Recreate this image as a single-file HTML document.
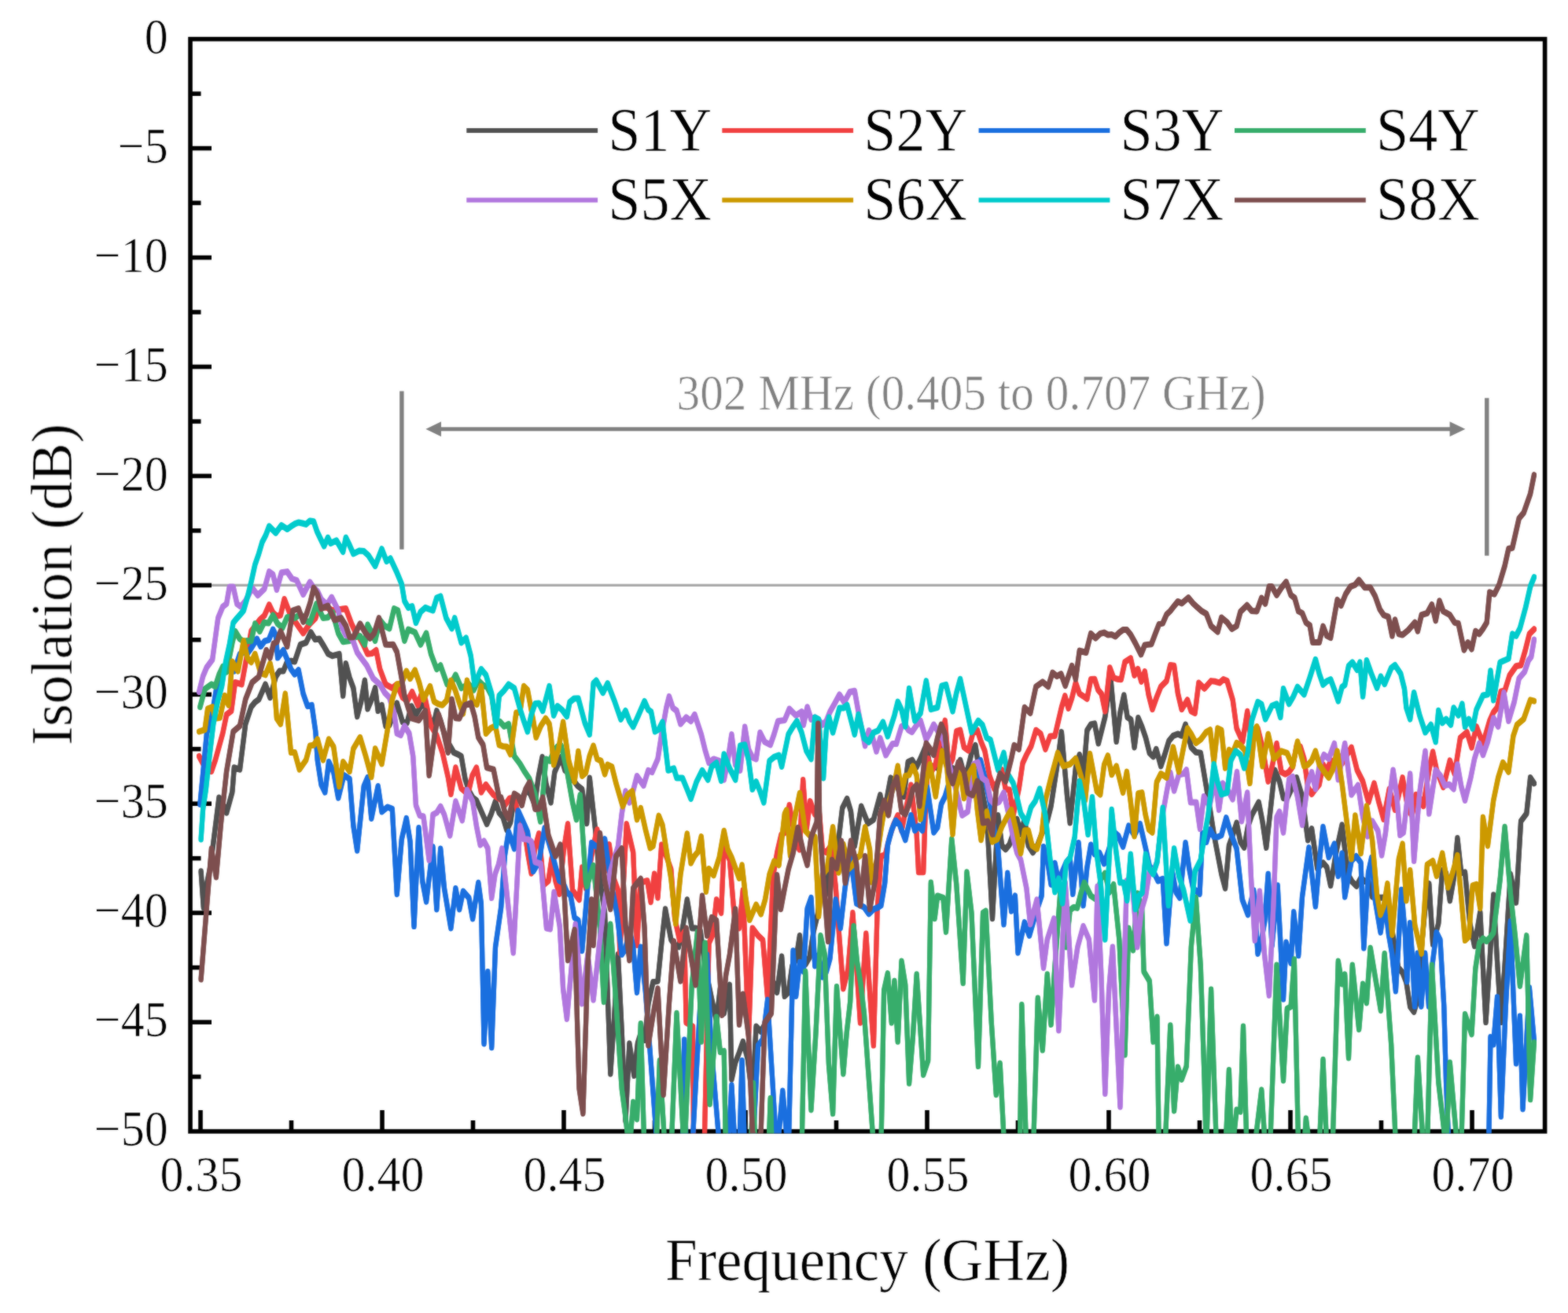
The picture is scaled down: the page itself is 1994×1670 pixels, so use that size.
<!DOCTYPE html>
<html lang="en"><head><meta charset="utf-8"><title>Isolation vs Frequency</title>
<style>html,body{margin:0;padding:0;background:#fff;}body{width:1994px;height:1670px;overflow:hidden;}svg{display:block;}text{font-family:'Liberation Serif', 'Times New Roman', Times, serif;}</style>
</head><body>
<svg width="1994" height="1670" viewBox="0 0 1994 1670" role="img" aria-label="Isolation versus frequency chart">
<rect width="1994" height="1670" fill="#ffffff"/>
<defs><filter id="soft" x="0" y="0" width="1994" height="1670" filterUnits="userSpaceOnUse" color-interpolation-filters="sRGB"><feGaussianBlur in="SourceGraphic" stdDeviation="1" result="b"/><feComposite in="SourceGraphic" in2="b" operator="arithmetic" k1="0" k2="0.5" k3="0.5" k4="0"/></filter></defs>
<g id="chart" filter="url(#soft)">
<defs><clipPath id="plot"><rect x="242.0" y="49.7" width="1722.6" height="1391.5"/></clipPath></defs>
<line x1="242.0" y1="744.4" x2="1964.6" y2="744.4" stroke="#a9a9a9" stroke-width="3.1"/>
<g stroke="#000" stroke-width="5.6" fill="none" stroke-linecap="butt">
<rect x="242.0" y="49.7" width="1722.6" height="1389.3"/>
<line x1="242.0" y1="119.2" x2="255.5" y2="119.2"/>
<line x1="242.0" y1="188.6" x2="269.0" y2="188.6"/>
<line x1="242.0" y1="258.1" x2="255.5" y2="258.1"/>
<line x1="242.0" y1="327.6" x2="269.0" y2="327.6"/>
<line x1="242.0" y1="397.0" x2="255.5" y2="397.0"/>
<line x1="242.0" y1="466.5" x2="269.0" y2="466.5"/>
<line x1="242.0" y1="536.0" x2="255.5" y2="536.0"/>
<line x1="242.0" y1="605.4" x2="269.0" y2="605.4"/>
<line x1="242.0" y1="674.9" x2="255.5" y2="674.9"/>
<line x1="242.0" y1="744.4" x2="269.0" y2="744.4"/>
<line x1="242.0" y1="813.8" x2="255.5" y2="813.8"/>
<line x1="242.0" y1="883.3" x2="269.0" y2="883.3"/>
<line x1="242.0" y1="952.7" x2="255.5" y2="952.7"/>
<line x1="242.0" y1="1022.2" x2="269.0" y2="1022.2"/>
<line x1="242.0" y1="1091.7" x2="255.5" y2="1091.7"/>
<line x1="242.0" y1="1161.1" x2="269.0" y2="1161.1"/>
<line x1="242.0" y1="1230.6" x2="255.5" y2="1230.6"/>
<line x1="242.0" y1="1300.1" x2="269.0" y2="1300.1"/>
<line x1="242.0" y1="1369.5" x2="255.5" y2="1369.5"/>
<line x1="255.0" y1="1439.0" x2="255.0" y2="1412.0"/>
<line x1="370.5" y1="1439.0" x2="370.5" y2="1425.0"/>
<line x1="486.0" y1="1439.0" x2="486.0" y2="1412.0"/>
<line x1="601.5" y1="1439.0" x2="601.5" y2="1425.0"/>
<line x1="717.0" y1="1439.0" x2="717.0" y2="1412.0"/>
<line x1="832.5" y1="1439.0" x2="832.5" y2="1425.0"/>
<line x1="948.0" y1="1439.0" x2="948.0" y2="1412.0"/>
<line x1="1063.5" y1="1439.0" x2="1063.5" y2="1425.0"/>
<line x1="1179.0" y1="1439.0" x2="1179.0" y2="1412.0"/>
<line x1="1294.5" y1="1439.0" x2="1294.5" y2="1425.0"/>
<line x1="1410.0" y1="1439.0" x2="1410.0" y2="1412.0"/>
<line x1="1525.5" y1="1439.0" x2="1525.5" y2="1425.0"/>
<line x1="1641.0" y1="1439.0" x2="1641.0" y2="1412.0"/>
<line x1="1756.5" y1="1439.0" x2="1756.5" y2="1425.0"/>
<line x1="1872.0" y1="1439.0" x2="1872.0" y2="1412.0"/>
</g>
<g clip-path="url(#plot)" fill="none" stroke-width="6.2" stroke-linejoin="round" stroke-linecap="round">
<path id="c-gray" stroke="#515151" transform="translate(0 -0.9)" d="M255.6 1108.3 L258.8 1154.1 L262.9 1124.4 L267.1 1104.2 L271.3 1072.2 L278.5 1014.4 L283.3 1022.4 L288.1 1033.7 L295.4 1007.2 L297.8 976.3 L305.0 978.7 L312.2 920.9 L319.4 899.2 L324.3 893.1 L329.1 889.6 L337.5 870.4 L343.5 887.2 L350.7 860.7 L355.5 853.5 L360.4 853.5 L365.2 841.5 L370.0 840.6 L374.8 841.5 L382.0 819.8 L389.2 817.4 L395.3 804.2 L400.7 813.2 L406.1 812.6 L411.7 821.6 L417.3 831.5 L422.9 834.2 L431.4 831.8 L436.2 884.8 L439.8 843.9 L444.6 862.3 L449.4 875.2 L454.2 911.3 L459.1 892.8 L463.9 865.5 L467.5 901.6 L472.3 890.4 L477.1 875.2 L480.7 904.1 L485.5 896.8 L490.4 923.3 L495.2 922.3 L500.0 909.2 L504.8 894.4 L512.0 918.5 L517.6 919.4 L523.2 898.2 L528.9 908.9 L536.1 896.8 L540.9 898.1 L545.7 911.8 L550.5 925.7 L555.3 904.1 L560.2 916.2 L565.0 932.9 L571.0 946.4 L577.0 957.0 L581.8 959.2 L586.6 961.8 L591.5 990.7 L596.3 1005.5 L601.1 1014.4 L605.9 1018.1 L610.7 1028.9 L619.1 1048.1 L624.6 1035.4 L630.0 1019.3 L634.8 1033.8 L639.6 1039.2 L644.4 1055.4 L649.2 1045.7 L654.0 1014.4 L658.9 1015.3 L663.7 1016.7 L668.5 1004.8 L674.2 1009.5 L680.0 1023.1 L684.8 987.7 L689.6 962.9 L694.4 996.6 L700.5 1020.7 L705.3 982.2 L713.7 962.9 L718.5 979.8 L723.7 983.4 L728.9 991.8 L734.2 999.1 L740.2 1003.9 L746.2 1047.2 L749.8 989.4 L757.0 1054.4 L763.0 1120.4 L769.1 1161.1 L776.3 1365.7 L781.1 1294.9 L785.9 1214.1 L790.7 1311.0 L795.5 1425.9 L800.4 1327.2 L806.4 1368.1 L810.9 1326.8 L815.4 1312.4 L819.9 1323.0 L824.4 1276.6 L830.5 1249.0 L836.5 1247.8 L841.3 1199.6 L846.1 1156.3 L853.3 1194.8 L858.1 1202.0 L862.9 1204.4 L868.4 1178.4 L873.8 1144.3 L879.8 1180.4 L884.6 1180.4 L890.6 1183.6 L896.6 1228.5 L901.5 1253.3 L906.3 1276.6 L911.1 1298.9 L915.9 1256.5 L920.7 1288.7 L927.9 1252.6 L930.4 1372.9 L935.2 1351.3 L940.0 1339.0 L944.8 1324.8 L950.8 1346.7 L956.8 1397.0 L961.6 1305.5 L967.7 1312.0 L973.7 1300.7 L978.5 1286.8 L983.3 1249.0 L988.1 1262.2 L994.1 1216.5 L997.8 1267.0 L1002.6 1262.2 L1007.4 1228.5 L1012.2 1220.8 L1017.0 1190.0 L1019.4 1228.5 L1024.5 1226.4 L1029.6 1217.4 L1034.7 1184.1 L1039.7 1163.7 L1044.8 1125.2 L1049.9 1138.0 L1055.0 1102.4 L1060.1 1088.2 L1065.2 1078.5 L1071.2 1027.7 L1077.2 1015.9 L1082.0 1032.0 L1086.8 1076.1 L1095.2 1025.5 L1103.7 1047.2 L1110.9 1042.4 L1119.3 1011.1 L1124.1 1035.2 L1132.6 989.4 L1138.3 993.2 L1144.1 1008.1 L1149.4 1013.1 L1154.7 969.3 L1160.0 966.7 L1165.3 976.0 L1170.6 964.8 L1177.8 947.9 L1182.6 975.5 L1187.4 974.4 L1192.2 976.8 L1197.0 954.8 L1201.8 949.2 L1206.7 988.7 L1211.5 977.0 L1216.3 988.9 L1221.1 966.8 L1225.9 984.6 L1230.7 978.0 L1235.5 958.1 L1240.4 947.9 L1245.2 980.2 L1250.0 1011.9 L1254.8 1037.0 L1262.0 1168.3 L1269.2 1037.0 L1274.1 1075.6 L1278.9 1080.3 L1283.7 1074.1 L1288.5 1060.2 L1293.3 1041.8 L1298.1 1061.0 L1302.9 1041.6 L1307.8 1075.5 L1313.4 1084.3 L1319.0 1076.0 L1324.6 1061.1 L1330.6 1048.6 L1336.6 1025.0 L1343.9 976.8 L1349.9 931.1 L1357.1 1012.9 L1360.7 1046.6 L1367.9 976.8 L1372.8 960.0 L1377.6 988.9 L1382.4 929.0 L1387.2 921.5 L1392.0 920.3 L1396.8 945.5 L1405.3 911.8 L1412.5 863.7 L1419.7 943.1 L1424.5 906.2 L1429.3 884.2 L1433.7 912.3 L1438.2 915.2 L1442.6 950.4 L1447.4 913.0 L1452.2 924.4 L1457.0 938.3 L1461.8 957.7 L1466.6 962.4 L1470.3 952.8 L1476.3 974.4 L1481.1 960.0 L1486.5 942.3 L1491.9 935.9 L1497.9 933.5 L1502.7 935.7 L1507.6 921.5 L1514.8 950.4 L1520.8 956.8 L1526.8 957.6 L1534.0 1000.9 L1538.9 1030.2 L1543.7 1061.1 L1548.5 1086.3 L1553.3 1111.6 L1558.1 1129.8 L1562.9 1075.5 L1567.7 1062.0 L1572.6 1046.6 L1577.4 1070.6 L1582.2 1077.9 L1587.0 1051.1 L1591.8 1037.0 L1600.7 1020.4 L1605.5 1045.1 L1610.3 1078.1 L1615.1 1034.8 L1621.1 979.4 L1627.1 993.9 L1632.0 1015.2 L1636.8 1015.5 L1642.8 1002.6 L1648.8 989.1 L1656.0 1013.1 L1663.2 1068.5 L1668.1 1054.1 L1675.3 1104.6 L1682.5 1097.4 L1687.3 1102.9 L1692.1 1126.3 L1699.4 1082.9 L1706.6 1049.2 L1713.8 1111.8 L1719.4 1121.2 L1725.0 1127.0 L1730.6 1116.6 L1735.5 1121.0 L1740.3 1121.4 L1745.1 1140.7 L1749.9 1140.7 L1754.7 1141.8 L1759.5 1141.6 L1764.4 1145.5 L1772.8 1198.5 L1778.2 1230.6 L1783.6 1237.0 L1788.4 1249.3 L1793.2 1280.3 L1798.1 1287.1 L1802.9 1270.7 L1806.5 1220.2 L1811.9 1159.2 L1817.3 1123.9 L1822.1 1200.9 L1829.3 1174.4 L1834.2 1107.0 L1839.0 1110.5 L1843.8 1145.5 L1848.6 1118.4 L1853.4 1066.1 L1858.2 1110.3 L1863.0 1109.4 L1869.1 1173.5 L1875.1 1203.3 L1882.3 1160.0 L1889.5 1300.1 L1894.3 1226.1 L1899.2 1138.3 L1904.0 1222.0 L1908.8 1300.1 L1914.8 1209.0 L1920.8 1111.8 L1928.0 1147.9 L1934.1 1044.4 L1941.3 1034.8 L1946.1 989.1 L1950.9 996.3"/>
<path stroke="#515151" transform="translate(0 0.9)" d="M255.6 1108.3 L258.8 1154.1 L262.9 1124.4 L267.1 1104.2 L271.3 1072.2 L278.5 1014.4 L283.3 1022.4 L288.1 1033.7 L295.4 1007.2 L297.8 976.3 L305.0 978.7 L312.2 920.9 L319.4 899.2 L324.3 893.1 L329.1 889.6 L337.5 870.4 L343.5 887.2 L350.7 860.7 L355.5 853.5 L360.4 853.5 L365.2 841.5 L370.0 840.6 L374.8 841.5 L382.0 819.8 L389.2 817.4 L395.3 804.2 L400.7 813.2 L406.1 812.6 L411.7 821.6 L417.3 831.5 L422.9 834.2 L431.4 831.8 L436.2 884.8 L439.8 843.9 L444.6 862.3 L449.4 875.2 L454.2 911.3 L459.1 892.8 L463.9 865.5 L467.5 901.6 L472.3 890.4 L477.1 875.2 L480.7 904.1 L485.5 896.8 L490.4 923.3 L495.2 922.3 L500.0 909.2 L504.8 894.4 L512.0 918.5 L517.6 919.4 L523.2 898.2 L528.9 908.9 L536.1 896.8 L540.9 898.1 L545.7 911.8 L550.5 925.7 L555.3 904.1 L560.2 916.2 L565.0 932.9 L571.0 946.4 L577.0 957.0 L581.8 959.2 L586.6 961.8 L591.5 990.7 L596.3 1005.5 L601.1 1014.4 L605.9 1018.1 L610.7 1028.9 L619.1 1048.1 L624.6 1035.4 L630.0 1019.3 L634.8 1033.8 L639.6 1039.2 L644.4 1055.4 L649.2 1045.7 L654.0 1014.4 L658.9 1015.3 L663.7 1016.7 L668.5 1004.8 L674.2 1009.5 L680.0 1023.1 L684.8 987.7 L689.6 962.9 L694.4 996.6 L700.5 1020.7 L705.3 982.2 L713.7 962.9 L718.5 979.8 L723.7 983.4 L728.9 991.8 L734.2 999.1 L740.2 1003.9 L746.2 1047.2 L749.8 989.4 L757.0 1054.4 L763.0 1120.4 L769.1 1161.1 L776.3 1365.7 L781.1 1294.9 L785.9 1214.1 L790.7 1311.0 L795.5 1425.9 L800.4 1327.2 L806.4 1368.1 L810.9 1326.8 L815.4 1312.4 L819.9 1323.0 L824.4 1276.6 L830.5 1249.0 L836.5 1247.8 L841.3 1199.6 L846.1 1156.3 L853.3 1194.8 L858.1 1202.0 L862.9 1204.4 L868.4 1178.4 L873.8 1144.3 L879.8 1180.4 L884.6 1180.4 L890.6 1183.6 L896.6 1228.5 L901.5 1253.3 L906.3 1276.6 L911.1 1298.9 L915.9 1256.5 L920.7 1288.7 L927.9 1252.6 L930.4 1372.9 L935.2 1351.3 L940.0 1339.0 L944.8 1324.8 L950.8 1346.7 L956.8 1397.0 L961.6 1305.5 L967.7 1312.0 L973.7 1300.7 L978.5 1286.8 L983.3 1249.0 L988.1 1262.2 L994.1 1216.5 L997.8 1267.0 L1002.6 1262.2 L1007.4 1228.5 L1012.2 1220.8 L1017.0 1190.0 L1019.4 1228.5 L1024.5 1226.4 L1029.6 1217.4 L1034.7 1184.1 L1039.7 1163.7 L1044.8 1125.2 L1049.9 1138.0 L1055.0 1102.4 L1060.1 1088.2 L1065.2 1078.5 L1071.2 1027.7 L1077.2 1015.9 L1082.0 1032.0 L1086.8 1076.1 L1095.2 1025.5 L1103.7 1047.2 L1110.9 1042.4 L1119.3 1011.1 L1124.1 1035.2 L1132.6 989.4 L1138.3 993.2 L1144.1 1008.1 L1149.4 1013.1 L1154.7 969.3 L1160.0 966.7 L1165.3 976.0 L1170.6 964.8 L1177.8 947.9 L1182.6 975.5 L1187.4 974.4 L1192.2 976.8 L1197.0 954.8 L1201.8 949.2 L1206.7 988.7 L1211.5 977.0 L1216.3 988.9 L1221.1 966.8 L1225.9 984.6 L1230.7 978.0 L1235.5 958.1 L1240.4 947.9 L1245.2 980.2 L1250.0 1011.9 L1254.8 1037.0 L1262.0 1168.3 L1269.2 1037.0 L1274.1 1075.6 L1278.9 1080.3 L1283.7 1074.1 L1288.5 1060.2 L1293.3 1041.8 L1298.1 1061.0 L1302.9 1041.6 L1307.8 1075.5 L1313.4 1084.3 L1319.0 1076.0 L1324.6 1061.1 L1330.6 1048.6 L1336.6 1025.0 L1343.9 976.8 L1349.9 931.1 L1357.1 1012.9 L1360.7 1046.6 L1367.9 976.8 L1372.8 960.0 L1377.6 988.9 L1382.4 929.0 L1387.2 921.5 L1392.0 920.3 L1396.8 945.5 L1405.3 911.8 L1412.5 863.7 L1419.7 943.1 L1424.5 906.2 L1429.3 884.2 L1433.7 912.3 L1438.2 915.2 L1442.6 950.4 L1447.4 913.0 L1452.2 924.4 L1457.0 938.3 L1461.8 957.7 L1466.6 962.4 L1470.3 952.8 L1476.3 974.4 L1481.1 960.0 L1486.5 942.3 L1491.9 935.9 L1497.9 933.5 L1502.7 935.7 L1507.6 921.5 L1514.8 950.4 L1520.8 956.8 L1526.8 957.6 L1534.0 1000.9 L1538.9 1030.2 L1543.7 1061.1 L1548.5 1086.3 L1553.3 1111.6 L1558.1 1129.8 L1562.9 1075.5 L1567.7 1062.0 L1572.6 1046.6 L1577.4 1070.6 L1582.2 1077.9 L1587.0 1051.1 L1591.8 1037.0 L1600.7 1020.4 L1605.5 1045.1 L1610.3 1078.1 L1615.1 1034.8 L1621.1 979.4 L1627.1 993.9 L1632.0 1015.2 L1636.8 1015.5 L1642.8 1002.6 L1648.8 989.1 L1656.0 1013.1 L1663.2 1068.5 L1668.1 1054.1 L1675.3 1104.6 L1682.5 1097.4 L1687.3 1102.9 L1692.1 1126.3 L1699.4 1082.9 L1706.6 1049.2 L1713.8 1111.8 L1719.4 1121.2 L1725.0 1127.0 L1730.6 1116.6 L1735.5 1121.0 L1740.3 1121.4 L1745.1 1140.7 L1749.9 1140.7 L1754.7 1141.8 L1759.5 1141.6 L1764.4 1145.5 L1772.8 1198.5 L1778.2 1230.6 L1783.6 1237.0 L1788.4 1249.3 L1793.2 1280.3 L1798.1 1287.1 L1802.9 1270.7 L1806.5 1220.2 L1811.9 1159.2 L1817.3 1123.9 L1822.1 1200.9 L1829.3 1174.4 L1834.2 1107.0 L1839.0 1110.5 L1843.8 1145.5 L1848.6 1118.4 L1853.4 1066.1 L1858.2 1110.3 L1863.0 1109.4 L1869.1 1173.5 L1875.1 1203.3 L1882.3 1160.0 L1889.5 1300.1 L1894.3 1226.1 L1899.2 1138.3 L1904.0 1222.0 L1908.8 1300.1 L1914.8 1209.0 L1920.8 1111.8 L1928.0 1147.9 L1934.1 1044.4 L1941.3 1034.8 L1946.1 989.1 L1950.9 996.3"/>
<path id="c-red" stroke="#F14040" transform="translate(0 -0.9)" d="M253.2 961.8 L258.5 971.8 L263.7 973.6 L268.9 981.1 L273.7 967.2 L278.5 949.8 L283.3 932.6 L288.1 908.9 L294.2 904.1 L299.0 867.9 L307.4 870.4 L312.2 843.9 L319.4 802.9 L324.9 795.7 L330.3 788.5 L336.3 782.9 L342.3 769.2 L347.1 779.2 L351.9 783.7 L356.8 782.5 L361.6 762.0 L370.0 783.7 L377.2 793.3 L385.6 805.4 L394.1 793.3 L401.3 786.1 L406.1 769.2 L411.7 772.3 L417.3 773.2 L422.9 776.5 L428.6 774.9 L434.2 774.8 L439.8 774.1 L447.0 793.3 L451.8 803.5 L456.6 810.2 L462.1 820.0 L467.5 831.8 L472.9 831.1 L478.3 827.0 L483.1 851.1 L490.4 870.4 L498.8 875.2 L504.8 870.4 L512.0 887.2 L518.0 891.6 L524.1 880.0 L531.3 896.8 L536.1 882.1 L540.9 889.6 L548.1 923.3 L555.3 935.3 L562.6 957.0 L569.8 988.3 L573.4 1010.0 L579.4 976.3 L586.6 1002.7 L595.1 1010.0 L600.5 986.6 L605.9 976.3 L611.9 1007.6 L617.9 997.9 L622.7 1004.7 L627.6 1010.8 L632.4 1014.3 L637.2 1017.2 L642.0 1024.1 L648.0 1015.5 L654.0 1014.4 L660.1 1039.8 L666.1 1048.1 L670.9 1083.5 L675.7 1110.7 L680.5 1077.9 L685.3 1060.2 L691.4 1125.4 L697.4 1120.4 L701.7 1091.3 L706.5 1120.5 L711.3 1137.0 L716.7 1082.6 L722.1 1048.0 L728.1 1132.2 L736.6 1144.3 L740.2 1103.3 L745.0 1129.8 L749.8 1102.9 L754.6 1075.5 L759.4 1055.2 L764.3 1080.6 L769.1 1108.1 L774.7 1074.1 L780.3 1116.7 L785.9 1132.2 L788.3 1211.7 L796.8 1048.0 L805.2 1084.1 L810.0 1202.0 L814.8 1122.6 L823.2 1120.2 L827.6 1147.3 L832.1 1111.6 L836.5 1141.8 L841.3 1074.4 L847.3 1088.8 L853.3 1105.7 L858.1 1168.3 L864.2 1195.6 L870.2 1185.2 L872.6 1300.7 L881.0 1305.5 L882.2 1469.2 L895.4 1469.2 L901.5 1199.6 L906.3 1189.1 L911.1 1144.3 L917.1 1161.1 L920.7 1076.9 L927.9 1093.7 L934.0 1166.9 L940.0 1180.4 L944.8 1132.2 L952.0 1320.0 L956.8 1180.4 L964.1 1190.0 L970.1 1195.7 L976.1 1269.4 L983.3 1113.0 L988.4 1083.6 L993.5 1061.6 L998.7 1058.6 L1003.8 1023.9 L1012.2 1072.0 L1016.7 1080.6 L1021.2 991.9 L1025.7 1054.1 L1030.3 1019.1 L1036.3 1035.9 L1041.1 1023.0 L1045.9 1081.7 L1050.7 1084.1 L1056.7 1075.9 L1062.7 1127.4 L1067.6 1195.9 L1072.4 1257.4 L1078.4 1233.1 L1084.4 1161.1 L1089.2 1228.3 L1094.0 1300.7 L1101.3 1187.6 L1106.1 1262.3 L1110.9 1329.6 L1115.7 1156.3 L1120.5 1088.9 L1125.8 1087.4 L1131.1 1065.0 L1136.4 1048.7 L1141.7 1037.0 L1146.5 1056.7 L1151.3 1032.2 L1158.5 998.5 L1165.7 1061.1 L1168.1 1109.2 L1174.2 1109.2 L1176.6 1037.0 L1180.2 964.8 L1185.0 980.5 L1189.8 972.0 L1195.8 940.9 L1201.8 916.6 L1206.7 975.1 L1211.5 964.8 L1216.3 930.2 L1221.1 928.7 L1225.9 950.4 L1231.5 954.6 L1237.2 932.6 L1242.8 928.7 L1247.6 943.5 L1252.4 955.2 L1258.4 987.0 L1264.4 1003.3 L1269.2 993.4 L1274.1 979.2 L1278.9 1004.0 L1283.7 1004.5 L1288.5 1037.0 L1295.7 1003.3 L1300.5 970.7 L1305.4 960.0 L1311.4 948.8 L1317.4 928.7 L1323.4 933.3 L1329.4 952.8 L1335.4 936.4 L1341.5 935.9 L1349.9 899.8 L1354.3 885.2 L1358.7 900.9 L1363.1 887.8 L1367.9 868.5 L1372.8 882.3 L1377.6 885.4 L1382.4 888.8 L1387.2 864.1 L1392.0 863.7 L1396.4 877.3 L1400.8 882.7 L1405.3 904.6 L1411.3 849.2 L1416.1 862.0 L1420.9 863.7 L1425.7 864.3 L1430.5 842.0 L1437.8 837.2 L1442.6 858.9 L1447.0 850.8 L1451.4 866.9 L1455.8 854.1 L1460.6 883.4 L1465.4 902.2 L1470.9 886.8 L1476.3 873.3 L1483.5 866.1 L1488.3 846.0 L1493.1 846.8 L1497.9 882.0 L1502.7 902.2 L1510.0 890.2 L1514.8 904.6 L1519.6 907.0 L1524.4 868.5 L1531.6 875.7 L1540.1 866.1 L1545.5 866.8 L1550.9 868.5 L1555.7 864.1 L1560.5 866.1 L1567.7 890.2 L1572.6 926.3 L1580.2 943.3 L1586.2 904.8 L1591.0 940.9 L1599.5 926.5 L1605.5 950.6 L1612.7 993.9 L1618.1 972.9 L1623.5 945.7 L1629.5 981.8 L1634.4 984.6 L1639.2 981.8 L1644.0 975.1 L1648.8 948.1 L1653.6 949.7 L1658.4 965.0 L1663.2 1001.1 L1668.1 1010.0 L1672.9 1003.5 L1677.7 997.9 L1682.5 972.2 L1687.3 980.4 L1692.1 967.8 L1696.9 967.4 L1701.8 960.8 L1706.6 971.1 L1711.4 962.6 L1718.6 950.6 L1725.8 979.4 L1733.1 993.9 L1740.3 1020.4 L1747.5 996.3 L1753.5 1020.5 L1759.5 1042.0 L1766.8 1003.5 L1774.0 1030.0 L1778.8 1011.0 L1783.6 989.1 L1790.8 1030.0 L1795.6 1037.5 L1800.5 1010.7 L1805.3 1014.8 L1810.1 1025.2 L1817.3 979.4 L1822.1 956.2 L1826.9 979.4 L1835.4 1001.1 L1843.8 967.4 L1849.8 984.3 L1857.0 938.5 L1865.5 931.3 L1871.5 950.6 L1877.5 924.1 L1885.9 945.7 L1894.3 916.9 L1899.2 905.8 L1904.0 900.0 L1908.8 879.4 L1913.6 878.5 L1919.6 859.2 L1928.0 847.2 L1934.1 846.0 L1939.5 827.9 L1944.9 806.3 L1950.9 800.3"/>
<path stroke="#F14040" transform="translate(0 0.9)" d="M253.2 961.8 L258.5 971.8 L263.7 973.6 L268.9 981.1 L273.7 967.2 L278.5 949.8 L283.3 932.6 L288.1 908.9 L294.2 904.1 L299.0 867.9 L307.4 870.4 L312.2 843.9 L319.4 802.9 L324.9 795.7 L330.3 788.5 L336.3 782.9 L342.3 769.2 L347.1 779.2 L351.9 783.7 L356.8 782.5 L361.6 762.0 L370.0 783.7 L377.2 793.3 L385.6 805.4 L394.1 793.3 L401.3 786.1 L406.1 769.2 L411.7 772.3 L417.3 773.2 L422.9 776.5 L428.6 774.9 L434.2 774.8 L439.8 774.1 L447.0 793.3 L451.8 803.5 L456.6 810.2 L462.1 820.0 L467.5 831.8 L472.9 831.1 L478.3 827.0 L483.1 851.1 L490.4 870.4 L498.8 875.2 L504.8 870.4 L512.0 887.2 L518.0 891.6 L524.1 880.0 L531.3 896.8 L536.1 882.1 L540.9 889.6 L548.1 923.3 L555.3 935.3 L562.6 957.0 L569.8 988.3 L573.4 1010.0 L579.4 976.3 L586.6 1002.7 L595.1 1010.0 L600.5 986.6 L605.9 976.3 L611.9 1007.6 L617.9 997.9 L622.7 1004.7 L627.6 1010.8 L632.4 1014.3 L637.2 1017.2 L642.0 1024.1 L648.0 1015.5 L654.0 1014.4 L660.1 1039.8 L666.1 1048.1 L670.9 1083.5 L675.7 1110.7 L680.5 1077.9 L685.3 1060.2 L691.4 1125.4 L697.4 1120.4 L701.7 1091.3 L706.5 1120.5 L711.3 1137.0 L716.7 1082.6 L722.1 1048.0 L728.1 1132.2 L736.6 1144.3 L740.2 1103.3 L745.0 1129.8 L749.8 1102.9 L754.6 1075.5 L759.4 1055.2 L764.3 1080.6 L769.1 1108.1 L774.7 1074.1 L780.3 1116.7 L785.9 1132.2 L788.3 1211.7 L796.8 1048.0 L805.2 1084.1 L810.0 1202.0 L814.8 1122.6 L823.2 1120.2 L827.6 1147.3 L832.1 1111.6 L836.5 1141.8 L841.3 1074.4 L847.3 1088.8 L853.3 1105.7 L858.1 1168.3 L864.2 1195.6 L870.2 1185.2 L872.6 1300.7 L881.0 1305.5 L882.2 1469.2 L895.4 1469.2 L901.5 1199.6 L906.3 1189.1 L911.1 1144.3 L917.1 1161.1 L920.7 1076.9 L927.9 1093.7 L934.0 1166.9 L940.0 1180.4 L944.8 1132.2 L952.0 1320.0 L956.8 1180.4 L964.1 1190.0 L970.1 1195.7 L976.1 1269.4 L983.3 1113.0 L988.4 1083.6 L993.5 1061.6 L998.7 1058.6 L1003.8 1023.9 L1012.2 1072.0 L1016.7 1080.6 L1021.2 991.9 L1025.7 1054.1 L1030.3 1019.1 L1036.3 1035.9 L1041.1 1023.0 L1045.9 1081.7 L1050.7 1084.1 L1056.7 1075.9 L1062.7 1127.4 L1067.6 1195.9 L1072.4 1257.4 L1078.4 1233.1 L1084.4 1161.1 L1089.2 1228.3 L1094.0 1300.7 L1101.3 1187.6 L1106.1 1262.3 L1110.9 1329.6 L1115.7 1156.3 L1120.5 1088.9 L1125.8 1087.4 L1131.1 1065.0 L1136.4 1048.7 L1141.7 1037.0 L1146.5 1056.7 L1151.3 1032.2 L1158.5 998.5 L1165.7 1061.1 L1168.1 1109.2 L1174.2 1109.2 L1176.6 1037.0 L1180.2 964.8 L1185.0 980.5 L1189.8 972.0 L1195.8 940.9 L1201.8 916.6 L1206.7 975.1 L1211.5 964.8 L1216.3 930.2 L1221.1 928.7 L1225.9 950.4 L1231.5 954.6 L1237.2 932.6 L1242.8 928.7 L1247.6 943.5 L1252.4 955.2 L1258.4 987.0 L1264.4 1003.3 L1269.2 993.4 L1274.1 979.2 L1278.9 1004.0 L1283.7 1004.5 L1288.5 1037.0 L1295.7 1003.3 L1300.5 970.7 L1305.4 960.0 L1311.4 948.8 L1317.4 928.7 L1323.4 933.3 L1329.4 952.8 L1335.4 936.4 L1341.5 935.9 L1349.9 899.8 L1354.3 885.2 L1358.7 900.9 L1363.1 887.8 L1367.9 868.5 L1372.8 882.3 L1377.6 885.4 L1382.4 888.8 L1387.2 864.1 L1392.0 863.7 L1396.4 877.3 L1400.8 882.7 L1405.3 904.6 L1411.3 849.2 L1416.1 862.0 L1420.9 863.7 L1425.7 864.3 L1430.5 842.0 L1437.8 837.2 L1442.6 858.9 L1447.0 850.8 L1451.4 866.9 L1455.8 854.1 L1460.6 883.4 L1465.4 902.2 L1470.9 886.8 L1476.3 873.3 L1483.5 866.1 L1488.3 846.0 L1493.1 846.8 L1497.9 882.0 L1502.7 902.2 L1510.0 890.2 L1514.8 904.6 L1519.6 907.0 L1524.4 868.5 L1531.6 875.7 L1540.1 866.1 L1545.5 866.8 L1550.9 868.5 L1555.7 864.1 L1560.5 866.1 L1567.7 890.2 L1572.6 926.3 L1580.2 943.3 L1586.2 904.8 L1591.0 940.9 L1599.5 926.5 L1605.5 950.6 L1612.7 993.9 L1618.1 972.9 L1623.5 945.7 L1629.5 981.8 L1634.4 984.6 L1639.2 981.8 L1644.0 975.1 L1648.8 948.1 L1653.6 949.7 L1658.4 965.0 L1663.2 1001.1 L1668.1 1010.0 L1672.9 1003.5 L1677.7 997.9 L1682.5 972.2 L1687.3 980.4 L1692.1 967.8 L1696.9 967.4 L1701.8 960.8 L1706.6 971.1 L1711.4 962.6 L1718.6 950.6 L1725.8 979.4 L1733.1 993.9 L1740.3 1020.4 L1747.5 996.3 L1753.5 1020.5 L1759.5 1042.0 L1766.8 1003.5 L1774.0 1030.0 L1778.8 1011.0 L1783.6 989.1 L1790.8 1030.0 L1795.6 1037.5 L1800.5 1010.7 L1805.3 1014.8 L1810.1 1025.2 L1817.3 979.4 L1822.1 956.2 L1826.9 979.4 L1835.4 1001.1 L1843.8 967.4 L1849.8 984.3 L1857.0 938.5 L1865.5 931.3 L1871.5 950.6 L1877.5 924.1 L1885.9 945.7 L1894.3 916.9 L1899.2 905.8 L1904.0 900.0 L1908.8 879.4 L1913.6 878.5 L1919.6 859.2 L1928.0 847.2 L1934.1 846.0 L1939.5 827.9 L1944.9 806.3 L1950.9 800.3"/>
<path id="c-blue" stroke="#1A6FDF" transform="translate(0 -0.9)" d="M254.4 1022.9 L262.9 932.9 L268.9 913.7 L276.1 870.4 L283.3 851.1 L288.1 853.4 L293.0 849.8 L297.8 853.5 L305.0 831.8 L309.8 829.4 L314.6 831.0 L319.4 824.6 L326.7 812.6 L331.5 822.2 L336.7 815.3 L341.9 813.8 L347.1 800.5 L350.7 807.8 L353.1 836.6 L360.4 827.0 L365.2 838.8 L370.0 851.1 L374.8 857.7 L379.6 852.3 L385.6 882.4 L391.1 898.2 L396.5 896.8 L401.3 930.5 L403.7 966.6 L408.5 998.0 L413.3 1007.6 L418.1 969.0 L424.2 981.9 L430.2 1014.8 L437.4 985.9 L444.6 990.7 L449.4 1050.3 L454.2 1081.8 L462.7 1000.0 L467.5 988.8 L472.3 1040.9 L480.7 1000.0 L485.5 1032.5 L492.8 1026.5 L498.8 1028.9 L504.8 1137.2 L510.8 1067.4 L516.8 1040.9 L521.6 1070.3 L526.5 1178.1 L532.5 1053.0 L537.3 1121.3 L542.1 1146.8 L550.5 1077.0 L555.3 1156.5 L560.2 1079.4 L565.0 1130.0 L573.4 1180.5 L579.4 1130.0 L584.2 1156.5 L589.0 1133.6 L596.3 1142.0 L601.1 1168.5 L608.3 1122.8 L611.9 1149.2 L615.5 1327.4 L620.3 1235.9 L625.2 1332.2 L630.0 1204.6 L637.2 1154.1 L642.0 1087.5 L646.8 1057.8 L654.0 1079.4 L658.9 1031.3 L664.9 1044.4 L670.9 1057.8 L678.1 1108.3 L685.3 1096.3 L692.6 1053.0 L697.4 1069.8 L702.0 1085.3 L706.7 1103.2 L711.3 1120.2 L716.1 1122.9 L720.9 1134.5 L725.7 1139.4 L730.6 1167.1 L735.4 1170.7 L740.2 1209.2 L746.2 1141.1 L752.2 1072.0 L757.8 1076.3 L763.5 1079.9 L769.1 1067.2 L776.3 1117.8 L784.7 1163.5 L790.7 1214.1 L795.5 1206.9 L800.4 1182.4 L805.2 1204.4 L810.0 1262.2 L814.8 1204.4 L820.8 1260.7 L826.8 1339.2 L836.5 1469.2 L867.8 1469.2 L870.2 1322.4 L872.6 1469.2 L879.8 1469.2 L891.8 1252.6 L899.1 1214.1 L903.9 1324.8 L915.9 1469.2 L925.5 1469.2 L930.4 1380.2 L935.2 1469.2 L940.0 1469.2 L943.6 1348.9 L947.2 1469.2 L956.8 1469.2 L964.1 1329.6 L970.1 1322.2 L976.1 1271.8 L988.1 1469.2 L995.3 1387.4 L1002.6 1469.2 L1008.6 1209.2 L1012.2 1267.0 L1017.0 1223.7 L1021.8 1235.7 L1026.6 1155.9 L1031.5 1141.8 L1036.3 1228.5 L1041.1 1214.9 L1045.9 1242.6 L1050.7 1236.2 L1055.5 1218.9 L1062.7 1144.3 L1068.8 1180.4 L1074.8 1127.4 L1082.0 1091.3 L1089.2 1149.1 L1094.0 1151.5 L1098.9 1153.9 L1104.9 1162.3 L1110.9 1156.3 L1115.7 1154.7 L1120.5 1151.5 L1125.3 1122.6 L1128.9 1074.4 L1134.0 1055.4 L1139.0 1043.5 L1144.1 1049.0 L1151.3 1068.3 L1158.5 1037.0 L1163.3 1056.3 L1168.1 1050.6 L1173.0 1056.3 L1179.0 1000.9 L1187.4 1058.7 L1192.2 1052.3 L1197.0 1022.7 L1201.8 1012.9 L1206.7 996.2 L1211.5 989.5 L1216.3 988.9 L1221.1 977.1 L1225.9 993.8 L1230.7 986.5 L1235.5 1000.9 L1241.2 1000.9 L1246.8 966.7 L1252.4 988.9 L1259.6 1025.0 L1264.4 1055.7 L1269.2 1079.3 L1276.5 1175.5 L1281.3 1110.6 L1286.1 1158.7 L1290.9 1139.4 L1294.5 1211.7 L1302.9 1173.1 L1309.0 1190.0 L1317.4 1161.1 L1324.6 1139.4 L1327.0 1076.9 L1331.8 1092.9 L1336.6 1125.0 L1341.5 1097.9 L1346.3 1121.8 L1351.1 1108.1 L1355.9 1096.8 L1360.7 1091.3 L1364.3 1137.0 L1371.6 1072.0 L1377.6 1151.5 L1382.4 1103.3 L1387.2 1074.5 L1392.0 1086.5 L1398.0 1084.5 L1404.1 1098.5 L1410.1 1080.7 L1416.1 1057.6 L1422.1 1063.0 L1428.1 1076.9 L1435.3 1050.4 L1442.6 1062.4 L1449.8 1048.0 L1457.0 1079.3 L1461.8 1101.6 L1466.6 1108.1 L1472.7 1120.5 L1478.7 1117.8 L1483.5 1199.6 L1490.7 1108.1 L1495.5 1134.6 L1500.3 1141.8 L1507.6 1072.0 L1512.4 1105.6 L1517.2 1129.8 L1525.6 1137.0 L1529.2 1060.0 L1534.0 1071.1 L1538.9 1055.2 L1543.7 1064.3 L1548.5 1064.6 L1553.3 1062.4 L1559.3 1040.1 L1565.3 1060.0 L1572.6 1079.3 L1579.8 1144.3 L1587.0 1163.5 L1594.2 1132.2 L1599.5 1212.9 L1603.9 1197.2 L1608.3 1171.7 L1612.7 1111.8 L1617.5 1203.3 L1624.7 1126.3 L1632.0 1270.7 L1635.6 1198.5 L1641.6 1225.0 L1645.2 1160.0 L1651.2 1215.3 L1656.0 1140.7 L1664.5 1078.1 L1672.9 1152.8 L1677.7 1096.8 L1682.5 1051.7 L1689.7 1090.2 L1696.9 1073.3 L1701.8 1114.2 L1706.6 1085.4 L1710.2 1140.7 L1718.6 1095.0 L1724.6 1089.0 L1730.6 1097.4 L1734.3 1205.7 L1740.0 1110.1 L1744.2 1090.8 L1748.4 1142.6 L1755.6 1185.9 L1761.1 1147.4 L1765.9 1188.3 L1770.1 1212.4 L1774.9 1260.5 L1778.5 1200.4 L1782.1 1131.8 L1786.9 1188.3 L1789.3 1248.5 L1793.0 1173.9 L1796.6 1224.4 L1799.0 1280.0 L1802.6 1212.4 L1807.4 1280.0 L1812.2 1212.4 L1817.0 1280.0 L1821.8 1224.4 L1826.7 1185.9 L1831.5 1195.5 L1836.3 1280.0 L1839.0 1376.6 L1842.6 1460.9 L1893.1 1460.9 L1895.5 1318.9 L1899.2 1328.5 L1904.0 1268.3 L1908.8 1420.0 L1914.8 1280.4 L1920.8 1172.0 L1928.0 1352.6 L1932.9 1292.4 L1936.5 1410.4 L1944.9 1256.3 L1950.9 1323.7"/>
<path stroke="#1A6FDF" transform="translate(0 0.9)" d="M254.4 1022.9 L262.9 932.9 L268.9 913.7 L276.1 870.4 L283.3 851.1 L288.1 853.4 L293.0 849.8 L297.8 853.5 L305.0 831.8 L309.8 829.4 L314.6 831.0 L319.4 824.6 L326.7 812.6 L331.5 822.2 L336.7 815.3 L341.9 813.8 L347.1 800.5 L350.7 807.8 L353.1 836.6 L360.4 827.0 L365.2 838.8 L370.0 851.1 L374.8 857.7 L379.6 852.3 L385.6 882.4 L391.1 898.2 L396.5 896.8 L401.3 930.5 L403.7 966.6 L408.5 998.0 L413.3 1007.6 L418.1 969.0 L424.2 981.9 L430.2 1014.8 L437.4 985.9 L444.6 990.7 L449.4 1050.3 L454.2 1081.8 L462.7 1000.0 L467.5 988.8 L472.3 1040.9 L480.7 1000.0 L485.5 1032.5 L492.8 1026.5 L498.8 1028.9 L504.8 1137.2 L510.8 1067.4 L516.8 1040.9 L521.6 1070.3 L526.5 1178.1 L532.5 1053.0 L537.3 1121.3 L542.1 1146.8 L550.5 1077.0 L555.3 1156.5 L560.2 1079.4 L565.0 1130.0 L573.4 1180.5 L579.4 1130.0 L584.2 1156.5 L589.0 1133.6 L596.3 1142.0 L601.1 1168.5 L608.3 1122.8 L611.9 1149.2 L615.5 1327.4 L620.3 1235.9 L625.2 1332.2 L630.0 1204.6 L637.2 1154.1 L642.0 1087.5 L646.8 1057.8 L654.0 1079.4 L658.9 1031.3 L664.9 1044.4 L670.9 1057.8 L678.1 1108.3 L685.3 1096.3 L692.6 1053.0 L697.4 1069.8 L702.0 1085.3 L706.7 1103.2 L711.3 1120.2 L716.1 1122.9 L720.9 1134.5 L725.7 1139.4 L730.6 1167.1 L735.4 1170.7 L740.2 1209.2 L746.2 1141.1 L752.2 1072.0 L757.8 1076.3 L763.5 1079.9 L769.1 1067.2 L776.3 1117.8 L784.7 1163.5 L790.7 1214.1 L795.5 1206.9 L800.4 1182.4 L805.2 1204.4 L810.0 1262.2 L814.8 1204.4 L820.8 1260.7 L826.8 1339.2 L836.5 1469.2 L867.8 1469.2 L870.2 1322.4 L872.6 1469.2 L879.8 1469.2 L891.8 1252.6 L899.1 1214.1 L903.9 1324.8 L915.9 1469.2 L925.5 1469.2 L930.4 1380.2 L935.2 1469.2 L940.0 1469.2 L943.6 1348.9 L947.2 1469.2 L956.8 1469.2 L964.1 1329.6 L970.1 1322.2 L976.1 1271.8 L988.1 1469.2 L995.3 1387.4 L1002.6 1469.2 L1008.6 1209.2 L1012.2 1267.0 L1017.0 1223.7 L1021.8 1235.7 L1026.6 1155.9 L1031.5 1141.8 L1036.3 1228.5 L1041.1 1214.9 L1045.9 1242.6 L1050.7 1236.2 L1055.5 1218.9 L1062.7 1144.3 L1068.8 1180.4 L1074.8 1127.4 L1082.0 1091.3 L1089.2 1149.1 L1094.0 1151.5 L1098.9 1153.9 L1104.9 1162.3 L1110.9 1156.3 L1115.7 1154.7 L1120.5 1151.5 L1125.3 1122.6 L1128.9 1074.4 L1134.0 1055.4 L1139.0 1043.5 L1144.1 1049.0 L1151.3 1068.3 L1158.5 1037.0 L1163.3 1056.3 L1168.1 1050.6 L1173.0 1056.3 L1179.0 1000.9 L1187.4 1058.7 L1192.2 1052.3 L1197.0 1022.7 L1201.8 1012.9 L1206.7 996.2 L1211.5 989.5 L1216.3 988.9 L1221.1 977.1 L1225.9 993.8 L1230.7 986.5 L1235.5 1000.9 L1241.2 1000.9 L1246.8 966.7 L1252.4 988.9 L1259.6 1025.0 L1264.4 1055.7 L1269.2 1079.3 L1276.5 1175.5 L1281.3 1110.6 L1286.1 1158.7 L1290.9 1139.4 L1294.5 1211.7 L1302.9 1173.1 L1309.0 1190.0 L1317.4 1161.1 L1324.6 1139.4 L1327.0 1076.9 L1331.8 1092.9 L1336.6 1125.0 L1341.5 1097.9 L1346.3 1121.8 L1351.1 1108.1 L1355.9 1096.8 L1360.7 1091.3 L1364.3 1137.0 L1371.6 1072.0 L1377.6 1151.5 L1382.4 1103.3 L1387.2 1074.5 L1392.0 1086.5 L1398.0 1084.5 L1404.1 1098.5 L1410.1 1080.7 L1416.1 1057.6 L1422.1 1063.0 L1428.1 1076.9 L1435.3 1050.4 L1442.6 1062.4 L1449.8 1048.0 L1457.0 1079.3 L1461.8 1101.6 L1466.6 1108.1 L1472.7 1120.5 L1478.7 1117.8 L1483.5 1199.6 L1490.7 1108.1 L1495.5 1134.6 L1500.3 1141.8 L1507.6 1072.0 L1512.4 1105.6 L1517.2 1129.8 L1525.6 1137.0 L1529.2 1060.0 L1534.0 1071.1 L1538.9 1055.2 L1543.7 1064.3 L1548.5 1064.6 L1553.3 1062.4 L1559.3 1040.1 L1565.3 1060.0 L1572.6 1079.3 L1579.8 1144.3 L1587.0 1163.5 L1594.2 1132.2 L1599.5 1212.9 L1603.9 1197.2 L1608.3 1171.7 L1612.7 1111.8 L1617.5 1203.3 L1624.7 1126.3 L1632.0 1270.7 L1635.6 1198.5 L1641.6 1225.0 L1645.2 1160.0 L1651.2 1215.3 L1656.0 1140.7 L1664.5 1078.1 L1672.9 1152.8 L1677.7 1096.8 L1682.5 1051.7 L1689.7 1090.2 L1696.9 1073.3 L1701.8 1114.2 L1706.6 1085.4 L1710.2 1140.7 L1718.6 1095.0 L1724.6 1089.0 L1730.6 1097.4 L1734.3 1205.7 L1740.0 1110.1 L1744.2 1090.8 L1748.4 1142.6 L1755.6 1185.9 L1761.1 1147.4 L1765.9 1188.3 L1770.1 1212.4 L1774.9 1260.5 L1778.5 1200.4 L1782.1 1131.8 L1786.9 1188.3 L1789.3 1248.5 L1793.0 1173.9 L1796.6 1224.4 L1799.0 1280.0 L1802.6 1212.4 L1807.4 1280.0 L1812.2 1212.4 L1817.0 1280.0 L1821.8 1224.4 L1826.7 1185.9 L1831.5 1195.5 L1836.3 1280.0 L1839.0 1376.6 L1842.6 1460.9 L1893.1 1460.9 L1895.5 1318.9 L1899.2 1328.5 L1904.0 1268.3 L1908.8 1420.0 L1914.8 1280.4 L1920.8 1172.0 L1928.0 1352.6 L1932.9 1292.4 L1936.5 1410.4 L1944.9 1256.3 L1950.9 1323.7"/>
<path id="c-green" stroke="#37AD6B" transform="translate(0 -0.9)" d="M254.4 899.2 L260.5 876.4 L268.9 870.4 L273.7 873.2 L278.5 858.3 L283.3 848.0 L288.1 854.7 L295.4 817.4 L299.0 802.9 L305.0 812.6 L309.8 815.9 L314.6 815.0 L319.4 815.2 L324.3 793.3 L330.3 802.9 L335.9 791.7 L341.5 792.6 L347.1 782.5 L353.1 793.3 L359.2 798.6 L365.2 784.9 L370.0 784.9 L374.8 786.1 L382.0 781.3 L388.0 788.9 L394.1 792.1 L402.5 768.0 L410.9 786.1 L416.9 785.3 L422.9 778.9 L430.2 805.4 L436.2 816.2 L444.6 815.0 L451.8 810.2 L457.9 808.9 L463.9 819.8 L467.5 794.5 L472.3 804.1 L477.1 815.0 L483.1 788.5 L489.1 796.0 L495.2 799.3 L501.2 774.1 L506.0 776.5 L514.4 815.0 L519.2 800.5 L527.7 804.2 L534.9 819.8 L542.1 805.4 L548.1 831.8 L555.3 851.1 L560.2 846.3 L568.6 870.4 L574.0 869.1 L579.4 858.3 L586.6 875.2 L591.5 872.6 L596.3 870.4 L602.3 877.6 L608.3 865.5 L613.9 871.1 L619.5 874.0 L625.2 884.8 L630.0 918.5 L635.6 917.7 L641.2 924.0 L646.8 920.9 L654.0 961.8 L661.3 971.5 L667.3 981.7 L673.3 990.7 L680.5 1010.0 L687.2 1044.8 L694.4 965.4 L699.3 967.8 L704.1 955.9 L708.9 949.5 L713.7 948.5 L720.9 979.8 L728.1 1020.7 L733.0 1042.4 L737.8 1011.1 L745.0 1121.8 L746.2 1127.4 L754.6 1100.9 L763.0 1180.4 L767.9 1274.2 L776.3 1175.5 L783.5 1276.6 L790.7 1385.0 L795.5 1421.1 L800.4 1464.8 L805.2 1401.8 L810.0 1423.5 L814.8 1301.9 L819.6 1469.2 L834.1 1469.2 L838.9 1348.9 L846.1 1469.2 L853.3 1469.2 L860.5 1288.7 L870.2 1469.2 L879.8 1252.6 L887.0 1185.2 L891.8 1324.8 L896.6 1199.6 L902.7 1404.2 L911.1 1293.5 L915.9 1338.0 L920.7 1336.8 L923.1 1469.2 L954.4 1469.2 L958.0 1377.8 L960.4 1469.2 L977.3 1469.2 L979.7 1397.0 L982.1 1469.2 L1019.4 1469.2 L1024.2 1235.7 L1031.5 1411.5 L1037.5 1313.5 L1043.5 1190.0 L1048.7 1213.6 L1053.9 1353.3 L1059.1 1416.3 L1064.0 1255.0 L1072.4 1365.7 L1076.8 1312.7 L1081.2 1274.2 L1085.6 1178.0 L1090.0 1223.4 L1094.4 1250.4 L1098.9 1288.7 L1110.9 1457.2 L1120.5 1457.2 L1124.1 1259.8 L1128.9 1238.1 L1133.8 1300.7 L1137.4 1247.8 L1141.7 1324.8 L1146.5 1222.5 L1151.3 1252.6 L1156.1 1377.8 L1160.9 1319.0 L1165.7 1239.3 L1174.2 1366.9 L1180.2 1348.9 L1183.8 1122.6 L1188.6 1168.3 L1192.2 1139.4 L1199.4 1141.8 L1203.0 1185.2 L1210.3 1067.2 L1216.3 1125.0 L1224.7 1250.2 L1229.5 1109.3 L1235.5 1161.1 L1244.0 1356.1 L1250.0 1161.1 L1253.6 1158.7 L1260.8 1300.7 L1266.8 1392.2 L1271.7 1352.5 L1277.7 1469.2 L1296.9 1469.2 L1299.3 1277.9 L1305.4 1469.2 L1313.8 1469.2 L1319.8 1269.4 L1325.8 1335.6 L1331.8 1239.3 L1336.6 1303.1 L1341.5 1228.5 L1348.7 1129.8 L1355.9 1204.4 L1360.7 1157.6 L1365.5 1153.9 L1369.9 1154.9 L1374.4 1136.6 L1378.8 1122.6 L1387.2 1139.4 L1394.4 1144.3 L1399.8 1117.9 L1405.3 1110.6 L1410.7 1135.0 L1416.1 1125.0 L1423.3 1194.8 L1430.5 1341.6 L1435.3 1180.4 L1441.0 1208.5 L1446.6 1136.3 L1452.2 1156.3 L1454.6 1235.7 L1461.8 1247.8 L1466.6 1324.8 L1471.5 1293.5 L1473.9 1469.2 L1481.1 1469.2 L1488.3 1304.3 L1493.1 1412.7 L1497.9 1357.3 L1502.7 1372.9 L1508.8 1356.1 L1514.8 1204.4 L1520.8 1141.8 L1526.8 1228.5 L1531.6 1372.9 L1534.0 1469.2 L1540.1 1258.6 L1547.3 1469.2 L1558.1 1469.2 L1562.9 1360.9 L1566.5 1469.2 L1572.6 1411.5 L1577.4 1413.9 L1581.0 1305.5 L1585.8 1469.2 L1594.2 1469.2 L1604.3 1386.3 L1609.1 1460.9 L1615.1 1460.9 L1623.5 1227.4 L1632.0 1374.2 L1636.8 1282.8 L1641.6 1280.4 L1645.9 1220.2 L1651.2 1460.9 L1658.4 1460.9 L1660.8 1422.4 L1665.7 1460.9 L1677.7 1460.9 L1682.5 1347.8 L1687.3 1460.9 L1694.5 1460.9 L1701.8 1222.6 L1706.6 1251.5 L1710.2 1239.4 L1715.0 1345.4 L1719.8 1227.4 L1728.2 1309.2 L1733.1 1251.5 L1737.9 1275.5 L1742.7 1205.7 L1748.7 1241.8 L1755.9 1285.2 L1760.7 1213.0 L1769.2 1328.5 L1775.2 1460.9 L1798.1 1460.9 L1802.9 1345.4 L1810.1 1460.9 L1814.9 1460.9 L1820.9 1227.4 L1829.3 1376.6 L1839.0 1460.9 L1843.8 1351.4 L1853.4 1460.9 L1858.2 1460.9 L1863.0 1290.0 L1871.5 1315.3 L1876.3 1232.2 L1881.1 1199.6 L1885.9 1193.7 L1890.3 1197.1 L1894.7 1192.6 L1899.2 1186.5 L1907.6 1119.1 L1913.6 1051.7 L1920.8 1135.9 L1926.8 1190.1 L1932.9 1253.9 L1941.3 1190.1 L1946.1 1398.3 L1950.9 1326.1"/>
<path stroke="#37AD6B" transform="translate(0 0.9)" d="M254.4 899.2 L260.5 876.4 L268.9 870.4 L273.7 873.2 L278.5 858.3 L283.3 848.0 L288.1 854.7 L295.4 817.4 L299.0 802.9 L305.0 812.6 L309.8 815.9 L314.6 815.0 L319.4 815.2 L324.3 793.3 L330.3 802.9 L335.9 791.7 L341.5 792.6 L347.1 782.5 L353.1 793.3 L359.2 798.6 L365.2 784.9 L370.0 784.9 L374.8 786.1 L382.0 781.3 L388.0 788.9 L394.1 792.1 L402.5 768.0 L410.9 786.1 L416.9 785.3 L422.9 778.9 L430.2 805.4 L436.2 816.2 L444.6 815.0 L451.8 810.2 L457.9 808.9 L463.9 819.8 L467.5 794.5 L472.3 804.1 L477.1 815.0 L483.1 788.5 L489.1 796.0 L495.2 799.3 L501.2 774.1 L506.0 776.5 L514.4 815.0 L519.2 800.5 L527.7 804.2 L534.9 819.8 L542.1 805.4 L548.1 831.8 L555.3 851.1 L560.2 846.3 L568.6 870.4 L574.0 869.1 L579.4 858.3 L586.6 875.2 L591.5 872.6 L596.3 870.4 L602.3 877.6 L608.3 865.5 L613.9 871.1 L619.5 874.0 L625.2 884.8 L630.0 918.5 L635.6 917.7 L641.2 924.0 L646.8 920.9 L654.0 961.8 L661.3 971.5 L667.3 981.7 L673.3 990.7 L680.5 1010.0 L687.2 1044.8 L694.4 965.4 L699.3 967.8 L704.1 955.9 L708.9 949.5 L713.7 948.5 L720.9 979.8 L728.1 1020.7 L733.0 1042.4 L737.8 1011.1 L745.0 1121.8 L746.2 1127.4 L754.6 1100.9 L763.0 1180.4 L767.9 1274.2 L776.3 1175.5 L783.5 1276.6 L790.7 1385.0 L795.5 1421.1 L800.4 1464.8 L805.2 1401.8 L810.0 1423.5 L814.8 1301.9 L819.6 1469.2 L834.1 1469.2 L838.9 1348.9 L846.1 1469.2 L853.3 1469.2 L860.5 1288.7 L870.2 1469.2 L879.8 1252.6 L887.0 1185.2 L891.8 1324.8 L896.6 1199.6 L902.7 1404.2 L911.1 1293.5 L915.9 1338.0 L920.7 1336.8 L923.1 1469.2 L954.4 1469.2 L958.0 1377.8 L960.4 1469.2 L977.3 1469.2 L979.7 1397.0 L982.1 1469.2 L1019.4 1469.2 L1024.2 1235.7 L1031.5 1411.5 L1037.5 1313.5 L1043.5 1190.0 L1048.7 1213.6 L1053.9 1353.3 L1059.1 1416.3 L1064.0 1255.0 L1072.4 1365.7 L1076.8 1312.7 L1081.2 1274.2 L1085.6 1178.0 L1090.0 1223.4 L1094.4 1250.4 L1098.9 1288.7 L1110.9 1457.2 L1120.5 1457.2 L1124.1 1259.8 L1128.9 1238.1 L1133.8 1300.7 L1137.4 1247.8 L1141.7 1324.8 L1146.5 1222.5 L1151.3 1252.6 L1156.1 1377.8 L1160.9 1319.0 L1165.7 1239.3 L1174.2 1366.9 L1180.2 1348.9 L1183.8 1122.6 L1188.6 1168.3 L1192.2 1139.4 L1199.4 1141.8 L1203.0 1185.2 L1210.3 1067.2 L1216.3 1125.0 L1224.7 1250.2 L1229.5 1109.3 L1235.5 1161.1 L1244.0 1356.1 L1250.0 1161.1 L1253.6 1158.7 L1260.8 1300.7 L1266.8 1392.2 L1271.7 1352.5 L1277.7 1469.2 L1296.9 1469.2 L1299.3 1277.9 L1305.4 1469.2 L1313.8 1469.2 L1319.8 1269.4 L1325.8 1335.6 L1331.8 1239.3 L1336.6 1303.1 L1341.5 1228.5 L1348.7 1129.8 L1355.9 1204.4 L1360.7 1157.6 L1365.5 1153.9 L1369.9 1154.9 L1374.4 1136.6 L1378.8 1122.6 L1387.2 1139.4 L1394.4 1144.3 L1399.8 1117.9 L1405.3 1110.6 L1410.7 1135.0 L1416.1 1125.0 L1423.3 1194.8 L1430.5 1341.6 L1435.3 1180.4 L1441.0 1208.5 L1446.6 1136.3 L1452.2 1156.3 L1454.6 1235.7 L1461.8 1247.8 L1466.6 1324.8 L1471.5 1293.5 L1473.9 1469.2 L1481.1 1469.2 L1488.3 1304.3 L1493.1 1412.7 L1497.9 1357.3 L1502.7 1372.9 L1508.8 1356.1 L1514.8 1204.4 L1520.8 1141.8 L1526.8 1228.5 L1531.6 1372.9 L1534.0 1469.2 L1540.1 1258.6 L1547.3 1469.2 L1558.1 1469.2 L1562.9 1360.9 L1566.5 1469.2 L1572.6 1411.5 L1577.4 1413.9 L1581.0 1305.5 L1585.8 1469.2 L1594.2 1469.2 L1604.3 1386.3 L1609.1 1460.9 L1615.1 1460.9 L1623.5 1227.4 L1632.0 1374.2 L1636.8 1282.8 L1641.6 1280.4 L1645.9 1220.2 L1651.2 1460.9 L1658.4 1460.9 L1660.8 1422.4 L1665.7 1460.9 L1677.7 1460.9 L1682.5 1347.8 L1687.3 1460.9 L1694.5 1460.9 L1701.8 1222.6 L1706.6 1251.5 L1710.2 1239.4 L1715.0 1345.4 L1719.8 1227.4 L1728.2 1309.2 L1733.1 1251.5 L1737.9 1275.5 L1742.7 1205.7 L1748.7 1241.8 L1755.9 1285.2 L1760.7 1213.0 L1769.2 1328.5 L1775.2 1460.9 L1798.1 1460.9 L1802.9 1345.4 L1810.1 1460.9 L1814.9 1460.9 L1820.9 1227.4 L1829.3 1376.6 L1839.0 1460.9 L1843.8 1351.4 L1853.4 1460.9 L1858.2 1460.9 L1863.0 1290.0 L1871.5 1315.3 L1876.3 1232.2 L1881.1 1199.6 L1885.9 1193.7 L1890.3 1197.1 L1894.7 1192.6 L1899.2 1186.5 L1907.6 1119.1 L1913.6 1051.7 L1920.8 1135.9 L1926.8 1190.1 L1932.9 1253.9 L1941.3 1190.1 L1946.1 1398.3 L1950.9 1326.1"/>
<path id="c-purple" stroke="#B177DE" transform="translate(0 -0.9)" d="M253.2 880.0 L258.1 860.1 L262.9 848.7 L270.1 839.1 L277.3 786.1 L283.3 771.7 L288.1 768.0 L291.8 746.4 L296.6 746.4 L301.4 768.2 L306.2 771.7 L312.2 764.4 L320.6 747.6 L327.9 757.2 L336.3 748.8 L342.3 727.1 L347.1 730.7 L351.9 750.0 L358.0 728.3 L365.2 727.1 L371.2 736.0 L377.2 738.0 L385.6 756.0 L394.1 740.4 L398.9 747.6 L403.7 751.9 L408.5 762.0 L415.7 769.2 L421.7 759.6 L430.2 776.5 L435.0 798.1 L439.8 807.8 L444.6 809.4 L449.4 816.2 L454.2 829.7 L459.1 836.6 L466.3 846.3 L474.7 863.1 L483.1 870.4 L489.1 880.9 L495.2 887.2 L501.2 906.5 L504.8 932.9 L509.6 935.1 L514.4 923.3 L520.4 932.9 L525.3 961.8 L528.9 1024.1 L533.7 1037.1 L538.5 1038.5 L545.7 1093.9 L550.5 1036.1 L555.3 1033.7 L560.2 1025.7 L565.0 1036.1 L572.2 1062.6 L579.4 1019.3 L587.8 1043.3 L593.9 1004.8 L601.1 1019.3 L605.9 1050.5 L610.7 1074.6 L615.5 1069.8 L620.3 1078.9 L625.2 1142.0 L629.6 1111.8 L634.0 1099.6 L638.4 1079.4 L644.4 1134.8 L652.8 1211.8 L661.3 1050.6 L666.1 1067.3 L670.9 1067.4 L675.7 1070.3 L680.5 1096.3 L687.7 1098.7 L695.0 1180.5 L699.8 1181.7 L704.6 1134.8 L711.8 1178.1 L716.1 1257.4 L720.9 1295.9 L726.9 1228.5 L731.8 1175.5 L740.2 1276.6 L747.4 1214.1 L754.6 1271.8 L761.8 1204.4 L769.1 1144.3 L776.3 1108.1 L781.1 1091.7 L785.9 1076.9 L790.7 1035.2 L795.5 1006.3 L800.4 1020.7 L805.2 1005.6 L810.0 987.0 L818.4 999.1 L824.4 979.8 L829.2 982.2 L836.5 965.4 L841.3 934.1 L847.3 900.4 L850.9 885.9 L855.7 900.4 L860.5 904.0 L865.4 920.8 L872.6 912.4 L878.6 917.2 L883.4 908.8 L891.8 934.1 L896.6 953.7 L901.5 970.2 L907.5 965.4 L914.7 967.8 L920.7 991.8 L925.5 967.8 L930.4 934.1 L935.2 972.6 L941.2 979.8 L947.2 924.4 L952.0 953.3 L956.8 963.3 L961.6 965.4 L966.5 931.7 L972.5 943.7 L979.7 947.3 L984.5 933.5 L989.3 917.2 L997.8 916.0 L1003.8 901.6 L1012.2 910.0 L1019.4 905.2 L1021.8 922.0 L1026.6 899.2 L1031.5 914.8 L1036.3 912.4 L1041.1 915.8 L1045.9 922.0 L1050.7 917.2 L1055.5 905.2 L1061.5 894.6 L1067.6 883.5 L1073.6 893.1 L1080.8 879.9 L1086.8 878.7 L1091.6 905.2 L1100.1 948.5 L1104.9 929.2 L1109.7 937.9 L1114.5 955.7 L1119.3 938.9 L1126.5 960.5 L1135.0 946.1 L1139.8 946.1 L1146.5 923.9 L1150.9 921.8 L1155.3 928.7 L1159.7 931.1 L1165.1 923.1 L1170.6 916.6 L1177.8 940.7 L1182.6 932.0 L1187.4 921.5 L1193.4 931.1 L1199.4 940.7 L1205.5 966.1 L1211.5 988.9 L1217.5 1011.9 L1223.5 1037.0 L1230.7 1032.2 L1238.0 972.0 L1243.6 969.5 L1249.2 989.7 L1254.8 993.7 L1259.6 1017.3 L1264.4 1022.6 L1270.5 1019.9 L1276.5 1008.1 L1282.5 1035.0 L1288.5 1065.9 L1293.3 1084.7 L1298.1 1093.7 L1305.4 1129.8 L1310.2 1175.5 L1318.6 1144.3 L1327.0 1230.9 L1331.8 1194.8 L1340.3 1168.3 L1346.3 1310.4 L1354.7 1122.6 L1363.1 1252.6 L1370.4 1204.4 L1377.6 1178.0 L1384.8 1194.8 L1392.0 1271.8 L1395.6 1127.4 L1400.4 1239.9 L1405.3 1391.0 L1410.1 1259.8 L1414.9 1204.4 L1419.7 1307.3 L1424.5 1407.8 L1432.9 1120.2 L1440.2 1127.4 L1446.2 1204.4 L1451.6 1157.8 L1457.0 1139.4 L1461.8 1108.1 L1466.6 1108.9 L1471.5 1096.1 L1477.5 1042.2 L1483.5 1008.1 L1488.3 982.8 L1493.1 1005.7 L1499.1 985.4 L1505.2 984.1 L1508.8 979.2 L1514.0 1020.4 L1521.2 1020.4 L1526.0 1054.1 L1530.9 1013.1 L1538.1 1025.2 L1545.3 991.5 L1550.1 1030.0 L1554.9 996.3 L1562.1 1005.9 L1567.6 1016.7 L1573.0 981.8 L1579.0 1044.4 L1586.2 1008.3 L1591.0 1116.6 L1595.8 1196.1 L1601.9 1133.5 L1607.9 1212.9 L1613.9 1265.9 L1619.9 1140.7 L1623.5 1039.6 L1627.1 1032.4 L1632.0 1058.9 L1639.2 991.5 L1644.0 987.9 L1650.0 1013.7 L1656.0 1049.2 L1663.2 996.3 L1668.1 982.1 L1672.9 1003.5 L1677.7 974.6 L1683.7 959.9 L1689.7 965.0 L1696.9 945.7 L1701.8 991.5 L1710.2 945.7 L1718.6 1010.7 L1727.0 998.7 L1733.1 1039.2 L1739.1 1063.7 L1745.1 1044.4 L1752.3 1056.5 L1757.1 1087.8 L1761.9 1060.0 L1766.8 1015.5 L1771.6 979.4 L1776.0 1009.5 L1780.4 1062.1 L1784.8 1058.9 L1793.2 984.3 L1798.1 1095.0 L1805.3 1008.3 L1812.5 955.4 L1817.3 1034.8 L1825.7 979.4 L1831.8 986.7 L1837.4 999.1 L1843.0 997.7 L1848.6 1003.5 L1853.4 972.2 L1858.2 1000.0 L1863.0 1018.0 L1870.3 989.1 L1875.1 965.0 L1881.1 945.7 L1885.9 960.2 L1891.9 943.3 L1899.2 913.2 L1905.2 924.2 L1912.4 880.9 L1918.4 917.0 L1925.6 892.9 L1931.7 862.8 L1938.9 854.4 L1943.7 840.0 L1947.3 835.2 L1950.9 813.5"/>
<path stroke="#B177DE" transform="translate(0 0.9)" d="M253.2 880.0 L258.1 860.1 L262.9 848.7 L270.1 839.1 L277.3 786.1 L283.3 771.7 L288.1 768.0 L291.8 746.4 L296.6 746.4 L301.4 768.2 L306.2 771.7 L312.2 764.4 L320.6 747.6 L327.9 757.2 L336.3 748.8 L342.3 727.1 L347.1 730.7 L351.9 750.0 L358.0 728.3 L365.2 727.1 L371.2 736.0 L377.2 738.0 L385.6 756.0 L394.1 740.4 L398.9 747.6 L403.7 751.9 L408.5 762.0 L415.7 769.2 L421.7 759.6 L430.2 776.5 L435.0 798.1 L439.8 807.8 L444.6 809.4 L449.4 816.2 L454.2 829.7 L459.1 836.6 L466.3 846.3 L474.7 863.1 L483.1 870.4 L489.1 880.9 L495.2 887.2 L501.2 906.5 L504.8 932.9 L509.6 935.1 L514.4 923.3 L520.4 932.9 L525.3 961.8 L528.9 1024.1 L533.7 1037.1 L538.5 1038.5 L545.7 1093.9 L550.5 1036.1 L555.3 1033.7 L560.2 1025.7 L565.0 1036.1 L572.2 1062.6 L579.4 1019.3 L587.8 1043.3 L593.9 1004.8 L601.1 1019.3 L605.9 1050.5 L610.7 1074.6 L615.5 1069.8 L620.3 1078.9 L625.2 1142.0 L629.6 1111.8 L634.0 1099.6 L638.4 1079.4 L644.4 1134.8 L652.8 1211.8 L661.3 1050.6 L666.1 1067.3 L670.9 1067.4 L675.7 1070.3 L680.5 1096.3 L687.7 1098.7 L695.0 1180.5 L699.8 1181.7 L704.6 1134.8 L711.8 1178.1 L716.1 1257.4 L720.9 1295.9 L726.9 1228.5 L731.8 1175.5 L740.2 1276.6 L747.4 1214.1 L754.6 1271.8 L761.8 1204.4 L769.1 1144.3 L776.3 1108.1 L781.1 1091.7 L785.9 1076.9 L790.7 1035.2 L795.5 1006.3 L800.4 1020.7 L805.2 1005.6 L810.0 987.0 L818.4 999.1 L824.4 979.8 L829.2 982.2 L836.5 965.4 L841.3 934.1 L847.3 900.4 L850.9 885.9 L855.7 900.4 L860.5 904.0 L865.4 920.8 L872.6 912.4 L878.6 917.2 L883.4 908.8 L891.8 934.1 L896.6 953.7 L901.5 970.2 L907.5 965.4 L914.7 967.8 L920.7 991.8 L925.5 967.8 L930.4 934.1 L935.2 972.6 L941.2 979.8 L947.2 924.4 L952.0 953.3 L956.8 963.3 L961.6 965.4 L966.5 931.7 L972.5 943.7 L979.7 947.3 L984.5 933.5 L989.3 917.2 L997.8 916.0 L1003.8 901.6 L1012.2 910.0 L1019.4 905.2 L1021.8 922.0 L1026.6 899.2 L1031.5 914.8 L1036.3 912.4 L1041.1 915.8 L1045.9 922.0 L1050.7 917.2 L1055.5 905.2 L1061.5 894.6 L1067.6 883.5 L1073.6 893.1 L1080.8 879.9 L1086.8 878.7 L1091.6 905.2 L1100.1 948.5 L1104.9 929.2 L1109.7 937.9 L1114.5 955.7 L1119.3 938.9 L1126.5 960.5 L1135.0 946.1 L1139.8 946.1 L1146.5 923.9 L1150.9 921.8 L1155.3 928.7 L1159.7 931.1 L1165.1 923.1 L1170.6 916.6 L1177.8 940.7 L1182.6 932.0 L1187.4 921.5 L1193.4 931.1 L1199.4 940.7 L1205.5 966.1 L1211.5 988.9 L1217.5 1011.9 L1223.5 1037.0 L1230.7 1032.2 L1238.0 972.0 L1243.6 969.5 L1249.2 989.7 L1254.8 993.7 L1259.6 1017.3 L1264.4 1022.6 L1270.5 1019.9 L1276.5 1008.1 L1282.5 1035.0 L1288.5 1065.9 L1293.3 1084.7 L1298.1 1093.7 L1305.4 1129.8 L1310.2 1175.5 L1318.6 1144.3 L1327.0 1230.9 L1331.8 1194.8 L1340.3 1168.3 L1346.3 1310.4 L1354.7 1122.6 L1363.1 1252.6 L1370.4 1204.4 L1377.6 1178.0 L1384.8 1194.8 L1392.0 1271.8 L1395.6 1127.4 L1400.4 1239.9 L1405.3 1391.0 L1410.1 1259.8 L1414.9 1204.4 L1419.7 1307.3 L1424.5 1407.8 L1432.9 1120.2 L1440.2 1127.4 L1446.2 1204.4 L1451.6 1157.8 L1457.0 1139.4 L1461.8 1108.1 L1466.6 1108.9 L1471.5 1096.1 L1477.5 1042.2 L1483.5 1008.1 L1488.3 982.8 L1493.1 1005.7 L1499.1 985.4 L1505.2 984.1 L1508.8 979.2 L1514.0 1020.4 L1521.2 1020.4 L1526.0 1054.1 L1530.9 1013.1 L1538.1 1025.2 L1545.3 991.5 L1550.1 1030.0 L1554.9 996.3 L1562.1 1005.9 L1567.6 1016.7 L1573.0 981.8 L1579.0 1044.4 L1586.2 1008.3 L1591.0 1116.6 L1595.8 1196.1 L1601.9 1133.5 L1607.9 1212.9 L1613.9 1265.9 L1619.9 1140.7 L1623.5 1039.6 L1627.1 1032.4 L1632.0 1058.9 L1639.2 991.5 L1644.0 987.9 L1650.0 1013.7 L1656.0 1049.2 L1663.2 996.3 L1668.1 982.1 L1672.9 1003.5 L1677.7 974.6 L1683.7 959.9 L1689.7 965.0 L1696.9 945.7 L1701.8 991.5 L1710.2 945.7 L1718.6 1010.7 L1727.0 998.7 L1733.1 1039.2 L1739.1 1063.7 L1745.1 1044.4 L1752.3 1056.5 L1757.1 1087.8 L1761.9 1060.0 L1766.8 1015.5 L1771.6 979.4 L1776.0 1009.5 L1780.4 1062.1 L1784.8 1058.9 L1793.2 984.3 L1798.1 1095.0 L1805.3 1008.3 L1812.5 955.4 L1817.3 1034.8 L1825.7 979.4 L1831.8 986.7 L1837.4 999.1 L1843.0 997.7 L1848.6 1003.5 L1853.4 972.2 L1858.2 1000.0 L1863.0 1018.0 L1870.3 989.1 L1875.1 965.0 L1881.1 945.7 L1885.9 960.2 L1891.9 943.3 L1899.2 913.2 L1905.2 924.2 L1912.4 880.9 L1918.4 917.0 L1925.6 892.9 L1931.7 862.8 L1938.9 854.4 L1943.7 840.0 L1947.3 835.2 L1950.9 813.5"/>
<path id="c-gold" stroke="#CC9900" transform="translate(0 -0.9)" d="M253.2 930.5 L260.5 928.1 L264.1 901.6 L270.1 899.2 L273.7 913.7 L279.7 912.8 L285.7 884.8 L290.6 896.8 L295.4 841.5 L302.6 853.5 L309.8 815.0 L314.6 836.6 L319.4 842.2 L324.3 831.8 L331.5 855.9 L337.5 858.3 L343.5 843.9 L348.3 865.5 L351.9 913.7 L356.8 920.9 L362.8 882.4 L370.0 957.0 L374.8 957.0 L380.8 978.7 L389.2 966.6 L394.1 948.4 L398.9 947.7 L403.7 940.2 L410.9 966.6 L418.1 940.2 L424.2 949.8 L431.4 1000.3 L436.2 969.0 L444.6 981.1 L449.4 952.2 L457.9 937.8 L465.1 961.8 L472.3 988.3 L477.1 952.2 L485.5 971.5 L492.8 928.1 L498.8 889.6 L504.8 870.4 L510.8 869.0 L516.8 853.5 L521.6 863.1 L527.7 852.3 L533.1 868.2 L538.5 889.6 L546.9 872.8 L552.1 892.4 L557.4 895.3 L562.6 896.8 L568.0 891.0 L573.4 865.5 L578.8 877.7 L584.2 894.4 L589.0 907.6 L593.9 865.5 L601.1 892.0 L606.5 896.1 L611.9 872.8 L617.9 932.9 L624.0 926.2 L630.0 923.3 L634.8 947.4 L639.6 949.3 L644.4 949.8 L649.2 959.4 L656.4 906.5 L661.3 905.9 L666.1 872.8 L670.9 877.6 L678.1 916.1 L681.7 937.8 L687.7 923.4 L693.8 913.7 L698.6 920.9 L700.5 934.1 L704.1 972.6 L710.1 953.5 L716.1 918.4 L723.3 967.8 L730.6 994.2 L735.4 955.7 L740.2 987.0 L745.0 982.7 L749.8 961.4 L754.6 948.5 L759.4 965.4 L764.3 967.8 L769.1 984.6 L772.7 972.6 L778.1 975.1 L783.5 996.6 L791.9 1025.5 L798.0 1011.1 L804.0 1006.3 L810.0 1042.4 L814.8 1027.9 L820.8 1054.8 L826.8 1078.5 L830.5 1076.1 L837.7 1037.6 L842.5 1049.6 L848.5 1088.1 L853.3 1117.0 L859.3 1174.8 L865.4 1112.2 L873.8 1060.4 L878.6 1097.8 L883.0 1089.2 L887.4 1083.7 L891.8 1064.1 L897.9 1133.9 L901.5 1105.0 L907.5 1113.4 L914.7 1090.5 L920.7 1056.8 L925.5 1080.5 L930.4 1090.5 L935.2 1104.0 L940.0 1117.0 L943.6 1100.2 L948.4 1142.5 L953.2 1170.0 L961.6 1150.7 L967.7 1162.7 L973.1 1144.0 L978.5 1112.2 L984.5 1095.3 L990.5 1100.2 L997.8 1035.2 L1000.2 1030.4 L1005.0 1088.1 L1009.8 1044.8 L1017.0 1008.7 L1024.2 1056.8 L1030.3 1063.2 L1036.3 1064.1 L1041.1 1165.2 L1045.9 1112.2 L1051.9 1105.0 L1059.1 1052.0 L1066.4 1109.8 L1072.4 1073.7 L1079.6 1105.0 L1084.4 1099.9 L1089.2 1091.5 L1094.0 1088.1 L1100.1 1052.0 L1106.1 1080.9 L1108.5 1121.8 L1114.5 1095.8 L1120.5 1054.4 L1125.3 1025.8 L1130.2 1020.7 L1137.4 996.6 L1141.7 974.4 L1146.5 1008.1 L1151.3 986.9 L1156.1 985.7 L1160.9 974.4 L1165.7 986.3 L1170.6 1041.8 L1176.6 1000.4 L1182.6 972.0 L1189.8 1012.9 L1198.2 955.2 L1204.3 976.8 L1211.5 1061.1 L1216.3 1000.9 L1221.1 977.2 L1225.9 1015.3 L1231.9 984.4 L1238.0 974.4 L1242.8 1029.8 L1247.6 1068.3 L1254.8 1032.2 L1262.0 1070.7 L1268.0 1067.6 L1274.1 1051.5 L1280.1 1040.0 L1286.1 1029.8 L1292.1 1055.2 L1298.1 1085.2 L1302.9 1056.3 L1307.8 1056.3 L1312.6 1075.5 L1318.6 1079.7 L1324.6 1061.1 L1329.4 1017.8 L1336.6 988.9 L1345.1 957.6 L1352.3 974.4 L1360.7 972.0 L1367.9 964.8 L1375.2 988.9 L1380.0 1017.8 L1386.0 958.8 L1390.4 982.2 L1394.8 1006.4 L1399.2 1010.5 L1404.1 972.9 L1408.9 961.2 L1413.7 985.3 L1419.7 974.4 L1428.1 1008.1 L1432.9 981.6 L1437.8 1019.6 L1442.6 1063.5 L1447.4 1009.1 L1452.2 1008.1 L1456.6 1035.9 L1461.0 1054.9 L1465.4 1058.7 L1470.9 994.9 L1476.3 984.1 L1483.5 988.9 L1491.9 950.4 L1499.1 981.6 L1504.6 953.2 L1510.0 926.3 L1514.8 933.5 L1520.8 945.0 L1526.8 940.7 L1534.0 931.1 L1538.9 928.2 L1543.7 969.6 L1548.5 926.3 L1553.3 928.7 L1558.1 976.8 L1562.9 953.8 L1567.7 957.6 L1572.6 944.9 L1577.4 947.9 L1583.4 954.4 L1589.4 996.1 L1595.4 928.7 L1598.3 924.1 L1605.5 974.6 L1612.7 933.7 L1619.9 965.0 L1624.7 960.5 L1629.5 955.4 L1636.8 957.8 L1644.0 974.6 L1650.0 943.3 L1658.4 974.6 L1663.2 972.8 L1668.1 967.4 L1672.9 955.4 L1677.7 972.3 L1682.5 979.4 L1689.7 989.1 L1695.1 978.3 L1700.6 955.4 L1706.6 996.3 L1711.4 1034.8 L1718.6 1092.6 L1723.4 1037.2 L1730.6 1085.4 L1737.9 1025.2 L1745.1 1068.5 L1751.1 1138.3 L1755.5 1163.6 L1759.9 1152.0 L1764.4 1123.9 L1770.4 1188.9 L1778.8 1092.6 L1783.6 1073.3 L1788.4 1145.5 L1793.2 1107.0 L1799.3 1176.8 L1807.7 1212.9 L1814.9 1099.8 L1822.1 1095.0 L1826.9 1114.2 L1834.2 1085.4 L1841.4 1128.7 L1847.4 1109.4 L1853.4 1087.8 L1858.2 1140.7 L1863.0 1196.1 L1867.9 1191.3 L1872.7 1126.3 L1877.5 1124.9 L1882.3 1155.2 L1885.9 1039.6 L1891.9 1075.7 L1899.2 1018.0 L1905.2 989.1 L1911.2 969.8 L1918.4 981.8 L1924.4 936.1 L1929.2 921.7 L1937.7 914.4 L1946.1 890.4 L1950.9 891.7"/>
<path stroke="#CC9900" transform="translate(0 0.9)" d="M253.2 930.5 L260.5 928.1 L264.1 901.6 L270.1 899.2 L273.7 913.7 L279.7 912.8 L285.7 884.8 L290.6 896.8 L295.4 841.5 L302.6 853.5 L309.8 815.0 L314.6 836.6 L319.4 842.2 L324.3 831.8 L331.5 855.9 L337.5 858.3 L343.5 843.9 L348.3 865.5 L351.9 913.7 L356.8 920.9 L362.8 882.4 L370.0 957.0 L374.8 957.0 L380.8 978.7 L389.2 966.6 L394.1 948.4 L398.9 947.7 L403.7 940.2 L410.9 966.6 L418.1 940.2 L424.2 949.8 L431.4 1000.3 L436.2 969.0 L444.6 981.1 L449.4 952.2 L457.9 937.8 L465.1 961.8 L472.3 988.3 L477.1 952.2 L485.5 971.5 L492.8 928.1 L498.8 889.6 L504.8 870.4 L510.8 869.0 L516.8 853.5 L521.6 863.1 L527.7 852.3 L533.1 868.2 L538.5 889.6 L546.9 872.8 L552.1 892.4 L557.4 895.3 L562.6 896.8 L568.0 891.0 L573.4 865.5 L578.8 877.7 L584.2 894.4 L589.0 907.6 L593.9 865.5 L601.1 892.0 L606.5 896.1 L611.9 872.8 L617.9 932.9 L624.0 926.2 L630.0 923.3 L634.8 947.4 L639.6 949.3 L644.4 949.8 L649.2 959.4 L656.4 906.5 L661.3 905.9 L666.1 872.8 L670.9 877.6 L678.1 916.1 L681.7 937.8 L687.7 923.4 L693.8 913.7 L698.6 920.9 L700.5 934.1 L704.1 972.6 L710.1 953.5 L716.1 918.4 L723.3 967.8 L730.6 994.2 L735.4 955.7 L740.2 987.0 L745.0 982.7 L749.8 961.4 L754.6 948.5 L759.4 965.4 L764.3 967.8 L769.1 984.6 L772.7 972.6 L778.1 975.1 L783.5 996.6 L791.9 1025.5 L798.0 1011.1 L804.0 1006.3 L810.0 1042.4 L814.8 1027.9 L820.8 1054.8 L826.8 1078.5 L830.5 1076.1 L837.7 1037.6 L842.5 1049.6 L848.5 1088.1 L853.3 1117.0 L859.3 1174.8 L865.4 1112.2 L873.8 1060.4 L878.6 1097.8 L883.0 1089.2 L887.4 1083.7 L891.8 1064.1 L897.9 1133.9 L901.5 1105.0 L907.5 1113.4 L914.7 1090.5 L920.7 1056.8 L925.5 1080.5 L930.4 1090.5 L935.2 1104.0 L940.0 1117.0 L943.6 1100.2 L948.4 1142.5 L953.2 1170.0 L961.6 1150.7 L967.7 1162.7 L973.1 1144.0 L978.5 1112.2 L984.5 1095.3 L990.5 1100.2 L997.8 1035.2 L1000.2 1030.4 L1005.0 1088.1 L1009.8 1044.8 L1017.0 1008.7 L1024.2 1056.8 L1030.3 1063.2 L1036.3 1064.1 L1041.1 1165.2 L1045.9 1112.2 L1051.9 1105.0 L1059.1 1052.0 L1066.4 1109.8 L1072.4 1073.7 L1079.6 1105.0 L1084.4 1099.9 L1089.2 1091.5 L1094.0 1088.1 L1100.1 1052.0 L1106.1 1080.9 L1108.5 1121.8 L1114.5 1095.8 L1120.5 1054.4 L1125.3 1025.8 L1130.2 1020.7 L1137.4 996.6 L1141.7 974.4 L1146.5 1008.1 L1151.3 986.9 L1156.1 985.7 L1160.9 974.4 L1165.7 986.3 L1170.6 1041.8 L1176.6 1000.4 L1182.6 972.0 L1189.8 1012.9 L1198.2 955.2 L1204.3 976.8 L1211.5 1061.1 L1216.3 1000.9 L1221.1 977.2 L1225.9 1015.3 L1231.9 984.4 L1238.0 974.4 L1242.8 1029.8 L1247.6 1068.3 L1254.8 1032.2 L1262.0 1070.7 L1268.0 1067.6 L1274.1 1051.5 L1280.1 1040.0 L1286.1 1029.8 L1292.1 1055.2 L1298.1 1085.2 L1302.9 1056.3 L1307.8 1056.3 L1312.6 1075.5 L1318.6 1079.7 L1324.6 1061.1 L1329.4 1017.8 L1336.6 988.9 L1345.1 957.6 L1352.3 974.4 L1360.7 972.0 L1367.9 964.8 L1375.2 988.9 L1380.0 1017.8 L1386.0 958.8 L1390.4 982.2 L1394.8 1006.4 L1399.2 1010.5 L1404.1 972.9 L1408.9 961.2 L1413.7 985.3 L1419.7 974.4 L1428.1 1008.1 L1432.9 981.6 L1437.8 1019.6 L1442.6 1063.5 L1447.4 1009.1 L1452.2 1008.1 L1456.6 1035.9 L1461.0 1054.9 L1465.4 1058.7 L1470.9 994.9 L1476.3 984.1 L1483.5 988.9 L1491.9 950.4 L1499.1 981.6 L1504.6 953.2 L1510.0 926.3 L1514.8 933.5 L1520.8 945.0 L1526.8 940.7 L1534.0 931.1 L1538.9 928.2 L1543.7 969.6 L1548.5 926.3 L1553.3 928.7 L1558.1 976.8 L1562.9 953.8 L1567.7 957.6 L1572.6 944.9 L1577.4 947.9 L1583.4 954.4 L1589.4 996.1 L1595.4 928.7 L1598.3 924.1 L1605.5 974.6 L1612.7 933.7 L1619.9 965.0 L1624.7 960.5 L1629.5 955.4 L1636.8 957.8 L1644.0 974.6 L1650.0 943.3 L1658.4 974.6 L1663.2 972.8 L1668.1 967.4 L1672.9 955.4 L1677.7 972.3 L1682.5 979.4 L1689.7 989.1 L1695.1 978.3 L1700.6 955.4 L1706.6 996.3 L1711.4 1034.8 L1718.6 1092.6 L1723.4 1037.2 L1730.6 1085.4 L1737.9 1025.2 L1745.1 1068.5 L1751.1 1138.3 L1755.5 1163.6 L1759.9 1152.0 L1764.4 1123.9 L1770.4 1188.9 L1778.8 1092.6 L1783.6 1073.3 L1788.4 1145.5 L1793.2 1107.0 L1799.3 1176.8 L1807.7 1212.9 L1814.9 1099.8 L1822.1 1095.0 L1826.9 1114.2 L1834.2 1085.4 L1841.4 1128.7 L1847.4 1109.4 L1853.4 1087.8 L1858.2 1140.7 L1863.0 1196.1 L1867.9 1191.3 L1872.7 1126.3 L1877.5 1124.9 L1882.3 1155.2 L1885.9 1039.6 L1891.9 1075.7 L1899.2 1018.0 L1905.2 989.1 L1911.2 969.8 L1918.4 981.8 L1924.4 936.1 L1929.2 921.7 L1937.7 914.4 L1946.1 890.4 L1950.9 891.7"/>
<path id="c-cyan" stroke="#00CBCC" transform="translate(0 -0.9)" d="M255.6 1067.4 L258.1 1029.2 L261.7 1005.2 L266.5 961.6 L271.3 920.9 L276.7 892.5 L282.1 872.8 L286.9 842.4 L291.8 819.8 L296.6 792.1 L301.0 786.7 L305.4 781.7 L309.8 776.5 L314.6 759.8 L319.4 740.4 L324.3 718.1 L329.1 704.3 L333.5 689.3 L337.9 680.9 L342.3 669.3 L350.7 677.8 L358.0 668.1 L365.2 673.0 L370.0 669.6 L374.8 666.4 L379.6 664.5 L384.4 665.5 L389.2 666.9 L394.1 662.4 L398.9 663.3 L403.3 676.3 L407.7 685.5 L412.1 694.6 L416.9 683.8 L420.5 691.0 L427.8 687.4 L436.2 701.8 L439.8 683.8 L444.6 693.6 L449.4 704.3 L456.6 700.6 L462.7 701.1 L468.7 706.7 L477.1 719.9 L485.5 698.2 L491.6 713.9 L496.4 710.3 L504.8 728.3 L510.8 742.8 L514.4 764.4 L519.2 772.9 L524.1 771.1 L528.9 792.1 L534.9 778.2 L540.9 772.9 L545.7 774.8 L550.5 776.5 L555.3 760.6 L560.2 758.4 L567.4 786.1 L574.6 799.3 L578.2 786.1 L586.6 817.4 L592.7 811.4 L598.7 834.2 L603.5 870.4 L611.9 851.1 L617.9 858.3 L625.2 882.4 L631.2 923.3 L634.8 884.8 L640.8 878.5 L646.8 870.4 L654.0 875.2 L661.3 901.6 L666.1 916.8 L670.9 930.5 L675.7 908.9 L680.5 895.0 L685.3 894.4 L690.2 904.1 L698.6 872.8 L704.1 910.0 L708.9 898.0 L714.9 903.0 L720.9 911.2 L724.5 893.1 L729.9 888.6 L735.4 888.3 L743.8 919.6 L749.8 934.1 L754.6 869.1 L758.2 865.5 L766.7 881.1 L772.7 869.1 L781.1 890.7 L789.5 914.8 L795.5 904.0 L800.4 917.0 L805.2 924.4 L811.2 911.2 L819.6 891.9 L824.4 902.8 L828.0 905.2 L832.9 930.5 L837.7 927.7 L842.5 918.4 L849.7 979.8 L856.9 977.4 L860.5 989.4 L867.8 989.4 L873.2 1002.5 L878.6 1015.9 L885.8 994.2 L893.0 979.8 L900.3 991.8 L905.1 975.0 L911.1 970.2 L917.1 993.0 L920.7 959.3 L927.9 977.4 L935.2 991.8 L941.2 948.5 L947.2 947.3 L952.0 966.8 L956.8 1003.9 L961.6 994.2 L966.5 1006.3 L971.3 1020.7 L978.5 967.8 L984.5 962.9 L990.5 960.5 L994.1 975.0 L1002.6 934.1 L1008.0 925.0 L1013.4 917.2 L1019.4 931.7 L1025.4 954.9 L1031.5 965.4 L1036.3 912.4 L1041.1 914.8 L1047.1 989.4 L1050.7 929.2 L1054.3 912.4 L1059.1 931.7 L1067.6 900.4 L1072.4 900.6 L1077.2 896.8 L1084.4 924.4 L1086.8 934.1 L1091.6 908.8 L1098.9 938.9 L1104.9 943.7 L1110.9 931.7 L1116.9 929.2 L1122.9 918.4 L1128.9 936.5 L1137.4 910.0 L1141.7 892.6 L1146.5 902.7 L1151.3 923.9 L1156.1 875.7 L1163.3 916.6 L1170.6 907.0 L1177.8 866.1 L1183.8 902.2 L1192.2 899.8 L1197.6 872.3 L1203.0 870.9 L1211.5 904.6 L1216.3 881.3 L1221.1 863.7 L1228.3 897.4 L1235.5 931.1 L1244.0 916.6 L1249.4 922.1 L1254.8 938.3 L1259.6 941.1 L1264.4 960.0 L1269.2 979.2 L1276.5 957.6 L1281.3 984.1 L1288.5 996.1 L1293.3 1014.2 L1298.1 1034.6 L1305.4 1046.6 L1311.0 1026.9 L1316.6 1018.9 L1322.2 1003.3 L1329.4 1037.0 L1335.4 1092.5 L1341.5 1134.6 L1346.3 1117.4 L1351.1 1148.8 L1355.9 1097.2 L1360.7 1091.3 L1366.7 1064.5 L1372.8 993.7 L1378.2 1018.7 L1383.6 1061.2 L1389.0 1014.0 L1394.4 1084.1 L1399.8 1124.4 L1405.3 1194.8 L1413.7 1029.8 L1419.1 1081.1 L1424.5 1122.6 L1428.9 1122.6 L1433.3 1145.2 L1437.8 1086.5 L1443.8 1156.3 L1448.2 1139.5 L1452.6 1135.3 L1457.0 1086.5 L1461.8 1105.0 L1466.6 1111.8 L1471.5 1096.1 L1478.7 1027.4 L1485.9 1151.5 L1493.1 1079.3 L1499.1 1113.8 L1505.2 1132.2 L1513.6 1170.7 L1519.6 1108.1 L1526.8 1093.7 L1531.6 1064.0 L1536.4 1037.0 L1543.7 972.0 L1548.5 995.4 L1553.3 1010.5 L1560.5 1008.1 L1565.3 967.2 L1571.4 955.3 L1577.4 960.0 L1582.2 976.8 L1587.0 955.8 L1591.8 916.6 L1599.5 892.9 L1604.3 895.9 L1609.1 914.6 L1617.5 897.8 L1623.5 895.3 L1628.3 912.2 L1632.0 876.1 L1639.2 895.3 L1644.6 886.1 L1650.0 873.7 L1658.4 883.3 L1665.7 861.6 L1672.9 838.8 L1677.7 856.8 L1682.5 870.8 L1687.3 866.5 L1692.1 864.1 L1696.9 877.0 L1701.8 891.7 L1706.6 873.7 L1710.2 871.3 L1715.0 847.2 L1719.8 842.4 L1725.8 852.0 L1729.4 842.4 L1733.1 885.7 L1737.9 840.0 L1743.9 856.8 L1751.1 874.9 L1755.9 860.4 L1760.7 870.1 L1769.2 849.6 L1774.0 846.0 L1781.2 856.8 L1786.0 876.1 L1788.4 900.2 L1793.2 914.6 L1798.1 880.9 L1805.3 909.8 L1812.5 931.5 L1819.7 921.8 L1825.7 943.5 L1829.3 903.8 L1834.2 919.4 L1839.0 914.6 L1845.0 921.8 L1848.6 900.2 L1854.6 909.8 L1859.4 895.3 L1863.0 924.2 L1867.9 914.6 L1872.7 926.6 L1877.5 902.6 L1885.9 884.5 L1891.9 883.3 L1895.5 853.2 L1899.2 890.5 L1907.6 842.4 L1913.0 840.1 L1918.4 837.6 L1923.2 806.3 L1928.0 808.8 L1932.9 799.1 L1940.1 772.6 L1946.1 746.1 L1950.9 734.1"/>
<path stroke="#00CBCC" transform="translate(0 0.9)" d="M255.6 1067.4 L258.1 1029.2 L261.7 1005.2 L266.5 961.6 L271.3 920.9 L276.7 892.5 L282.1 872.8 L286.9 842.4 L291.8 819.8 L296.6 792.1 L301.0 786.7 L305.4 781.7 L309.8 776.5 L314.6 759.8 L319.4 740.4 L324.3 718.1 L329.1 704.3 L333.5 689.3 L337.9 680.9 L342.3 669.3 L350.7 677.8 L358.0 668.1 L365.2 673.0 L370.0 669.6 L374.8 666.4 L379.6 664.5 L384.4 665.5 L389.2 666.9 L394.1 662.4 L398.9 663.3 L403.3 676.3 L407.7 685.5 L412.1 694.6 L416.9 683.8 L420.5 691.0 L427.8 687.4 L436.2 701.8 L439.8 683.8 L444.6 693.6 L449.4 704.3 L456.6 700.6 L462.7 701.1 L468.7 706.7 L477.1 719.9 L485.5 698.2 L491.6 713.9 L496.4 710.3 L504.8 728.3 L510.8 742.8 L514.4 764.4 L519.2 772.9 L524.1 771.1 L528.9 792.1 L534.9 778.2 L540.9 772.9 L545.7 774.8 L550.5 776.5 L555.3 760.6 L560.2 758.4 L567.4 786.1 L574.6 799.3 L578.2 786.1 L586.6 817.4 L592.7 811.4 L598.7 834.2 L603.5 870.4 L611.9 851.1 L617.9 858.3 L625.2 882.4 L631.2 923.3 L634.8 884.8 L640.8 878.5 L646.8 870.4 L654.0 875.2 L661.3 901.6 L666.1 916.8 L670.9 930.5 L675.7 908.9 L680.5 895.0 L685.3 894.4 L690.2 904.1 L698.6 872.8 L704.1 910.0 L708.9 898.0 L714.9 903.0 L720.9 911.2 L724.5 893.1 L729.9 888.6 L735.4 888.3 L743.8 919.6 L749.8 934.1 L754.6 869.1 L758.2 865.5 L766.7 881.1 L772.7 869.1 L781.1 890.7 L789.5 914.8 L795.5 904.0 L800.4 917.0 L805.2 924.4 L811.2 911.2 L819.6 891.9 L824.4 902.8 L828.0 905.2 L832.9 930.5 L837.7 927.7 L842.5 918.4 L849.7 979.8 L856.9 977.4 L860.5 989.4 L867.8 989.4 L873.2 1002.5 L878.6 1015.9 L885.8 994.2 L893.0 979.8 L900.3 991.8 L905.1 975.0 L911.1 970.2 L917.1 993.0 L920.7 959.3 L927.9 977.4 L935.2 991.8 L941.2 948.5 L947.2 947.3 L952.0 966.8 L956.8 1003.9 L961.6 994.2 L966.5 1006.3 L971.3 1020.7 L978.5 967.8 L984.5 962.9 L990.5 960.5 L994.1 975.0 L1002.6 934.1 L1008.0 925.0 L1013.4 917.2 L1019.4 931.7 L1025.4 954.9 L1031.5 965.4 L1036.3 912.4 L1041.1 914.8 L1047.1 989.4 L1050.7 929.2 L1054.3 912.4 L1059.1 931.7 L1067.6 900.4 L1072.4 900.6 L1077.2 896.8 L1084.4 924.4 L1086.8 934.1 L1091.6 908.8 L1098.9 938.9 L1104.9 943.7 L1110.9 931.7 L1116.9 929.2 L1122.9 918.4 L1128.9 936.5 L1137.4 910.0 L1141.7 892.6 L1146.5 902.7 L1151.3 923.9 L1156.1 875.7 L1163.3 916.6 L1170.6 907.0 L1177.8 866.1 L1183.8 902.2 L1192.2 899.8 L1197.6 872.3 L1203.0 870.9 L1211.5 904.6 L1216.3 881.3 L1221.1 863.7 L1228.3 897.4 L1235.5 931.1 L1244.0 916.6 L1249.4 922.1 L1254.8 938.3 L1259.6 941.1 L1264.4 960.0 L1269.2 979.2 L1276.5 957.6 L1281.3 984.1 L1288.5 996.1 L1293.3 1014.2 L1298.1 1034.6 L1305.4 1046.6 L1311.0 1026.9 L1316.6 1018.9 L1322.2 1003.3 L1329.4 1037.0 L1335.4 1092.5 L1341.5 1134.6 L1346.3 1117.4 L1351.1 1148.8 L1355.9 1097.2 L1360.7 1091.3 L1366.7 1064.5 L1372.8 993.7 L1378.2 1018.7 L1383.6 1061.2 L1389.0 1014.0 L1394.4 1084.1 L1399.8 1124.4 L1405.3 1194.8 L1413.7 1029.8 L1419.1 1081.1 L1424.5 1122.6 L1428.9 1122.6 L1433.3 1145.2 L1437.8 1086.5 L1443.8 1156.3 L1448.2 1139.5 L1452.6 1135.3 L1457.0 1086.5 L1461.8 1105.0 L1466.6 1111.8 L1471.5 1096.1 L1478.7 1027.4 L1485.9 1151.5 L1493.1 1079.3 L1499.1 1113.8 L1505.2 1132.2 L1513.6 1170.7 L1519.6 1108.1 L1526.8 1093.7 L1531.6 1064.0 L1536.4 1037.0 L1543.7 972.0 L1548.5 995.4 L1553.3 1010.5 L1560.5 1008.1 L1565.3 967.2 L1571.4 955.3 L1577.4 960.0 L1582.2 976.8 L1587.0 955.8 L1591.8 916.6 L1599.5 892.9 L1604.3 895.9 L1609.1 914.6 L1617.5 897.8 L1623.5 895.3 L1628.3 912.2 L1632.0 876.1 L1639.2 895.3 L1644.6 886.1 L1650.0 873.7 L1658.4 883.3 L1665.7 861.6 L1672.9 838.8 L1677.7 856.8 L1682.5 870.8 L1687.3 866.5 L1692.1 864.1 L1696.9 877.0 L1701.8 891.7 L1706.6 873.7 L1710.2 871.3 L1715.0 847.2 L1719.8 842.4 L1725.8 852.0 L1729.4 842.4 L1733.1 885.7 L1737.9 840.0 L1743.9 856.8 L1751.1 874.9 L1755.9 860.4 L1760.7 870.1 L1769.2 849.6 L1774.0 846.0 L1781.2 856.8 L1786.0 876.1 L1788.4 900.2 L1793.2 914.6 L1798.1 880.9 L1805.3 909.8 L1812.5 931.5 L1819.7 921.8 L1825.7 943.5 L1829.3 903.8 L1834.2 919.4 L1839.0 914.6 L1845.0 921.8 L1848.6 900.2 L1854.6 909.8 L1859.4 895.3 L1863.0 924.2 L1867.9 914.6 L1872.7 926.6 L1877.5 902.6 L1885.9 884.5 L1891.9 883.3 L1895.5 853.2 L1899.2 890.5 L1907.6 842.4 L1913.0 840.1 L1918.4 837.6 L1923.2 806.3 L1928.0 808.8 L1932.9 799.1 L1940.1 772.6 L1946.1 746.1 L1950.9 734.1"/>
<path id="c-brown" stroke="#7D4E4E" transform="translate(0 -0.9)" d="M255.6 1245.5 L261.7 1168.5 L268.9 1079.4 L274.9 1115.5 L280.9 1048.1 L288.1 981.1 L296.6 930.5 L305.0 923.3 L312.2 889.6 L320.6 867.9 L329.1 860.7 L333.9 844.1 L338.7 827.0 L343.5 836.6 L347.9 818.4 L352.3 816.4 L356.8 802.9 L365.2 822.2 L372.4 776.5 L379.6 774.1 L385.6 790.9 L390.1 780.1 L394.5 766.5 L398.9 747.6 L403.7 756.2 L408.5 774.1 L416.9 770.5 L425.4 788.5 L433.8 786.1 L439.8 795.7 L444.6 810.5 L449.4 810.2 L457.9 793.3 L465.1 805.4 L470.5 811.8 L475.9 805.4 L481.9 786.1 L490.4 819.8 L495.2 819.9 L500.0 819.8 L504.8 829.4 L510.8 863.1 L514.4 884.8 L519.2 900.8 L524.1 913.7 L532.5 916.1 L540.9 904.1 L545.7 985.9 L552.9 932.9 L557.8 908.9 L563.8 929.4 L569.8 957.0 L574.6 889.6 L579.4 913.2 L584.2 913.7 L591.5 896.8 L598.7 894.4 L603.5 910.9 L608.3 937.8 L614.3 947.4 L619.1 976.3 L627.6 978.7 L634.8 1014.8 L637.2 1014.4 L642.0 1032.6 L646.8 1040.9 L654.0 1009.6 L658.9 1012.7 L663.7 1024.1 L668.5 1003.6 L673.3 995.2 L680.5 1028.9 L685.3 1028.6 L690.2 1014.4 L697.4 1062.6 L706.5 1088.9 L712.5 1074.4 L717.3 1132.2 L722.1 1221.3 L730.6 1182.8 L736.6 1385.0 L741.4 1416.3 L747.4 1228.5 L752.2 1144.3 L754.6 1202.0 L763.0 1060.0 L769.1 1120.2 L776.3 1156.3 L783.5 1088.9 L790.7 1079.3 L795.5 1176.9 L800.4 1221.3 L805.2 1129.8 L810.0 1123.6 L814.8 1117.8 L819.6 1180.4 L824.4 1329.6 L831.7 1283.9 L836.5 1257.4 L843.7 1392.2 L850.9 1276.6 L856.9 1197.2 L865.4 1247.8 L872.6 1180.4 L877.4 1209.2 L884.6 1252.6 L893.0 1139.4 L899.1 1190.0 L905.1 1166.8 L911.1 1170.7 L918.3 1291.1 L923.1 1240.5 L927.9 1214.1 L935.2 1156.3 L940.0 1303.1 L944.8 1264.6 L952.0 1317.6 L956.8 1439.1 L962.2 1455.4 L967.7 1439.1 L972.5 1300.7 L980.9 1288.7 L988.1 1113.0 L992.9 1156.3 L997.8 1130.0 L1002.6 1105.7 L1008.6 1085.1 L1014.6 1052.8 L1021.8 1084.1 L1026.6 1100.1 L1031.5 1064.8 L1038.7 1045.6 L1040.4 920.4 L1042.3 1048.0 L1047.1 1117.8 L1053.1 1197.2 L1057.9 1093.7 L1064.0 1104.3 L1070.0 1069.6 L1074.8 1122.6 L1082.0 1069.6 L1089.2 1098.5 L1094.0 1151.5 L1100.1 1088.9 L1106.1 1156.3 L1113.3 1117.8 L1119.3 1035.9 L1124.6 1018.7 L1129.9 1036.6 L1135.2 1000.7 L1140.5 988.9 L1146.5 1032.2 L1151.3 1035.7 L1156.1 1022.6 L1160.9 1003.7 L1165.7 998.5 L1169.3 1025.0 L1177.8 945.5 L1182.6 952.3 L1187.4 960.0 L1192.2 938.3 L1197.0 921.6 L1201.8 933.5 L1206.7 982.9 L1211.5 996.1 L1218.7 969.6 L1225.9 981.6 L1230.7 1008.1 L1236.8 1011.4 L1242.8 993.7 L1250.0 1046.6 L1256.0 1044.5 L1262.0 1061.1 L1266.8 1003.3 L1271.7 984.1 L1278.9 993.7 L1286.1 964.8 L1289.7 947.9 L1295.7 952.8 L1302.9 899.8 L1310.2 907.0 L1317.4 873.3 L1325.8 867.3 L1333.0 873.3 L1338.5 855.5 L1343.9 860.1 L1349.3 857.1 L1354.7 872.1 L1363.1 846.8 L1367.9 863.7 L1372.8 827.6 L1381.2 830.0 L1387.2 805.9 L1393.2 811.6 L1399.2 805.9 L1404.1 804.6 L1408.9 807.4 L1413.7 807.1 L1418.5 809.5 L1423.3 804.7 L1428.1 801.1 L1432.9 801.0 L1437.8 807.1 L1443.8 818.0 L1451.0 832.4 L1455.8 820.4 L1464.2 819.2 L1469.0 806.6 L1473.9 793.9 L1478.7 792.7 L1483.5 781.7 L1488.3 777.0 L1493.1 770.8 L1497.9 765.0 L1502.7 767.4 L1511.2 760.2 L1517.2 767.4 L1522.8 772.6 L1528.4 777.4 L1534.0 780.6 L1540.1 796.3 L1548.5 803.5 L1553.3 785.5 L1560.5 791.5 L1566.5 799.9 L1572.6 796.3 L1577.4 778.2 L1585.8 769.8 L1591.8 777.0 L1598.3 777.4 L1604.3 760.5 L1609.1 767.8 L1613.9 746.1 L1617.5 746.1 L1623.5 756.9 L1629.5 747.7 L1635.6 740.1 L1641.6 756.9 L1646.4 760.5 L1651.2 777.4 L1656.0 779.8 L1660.8 791.8 L1665.7 795.4 L1669.3 817.1 L1677.7 817.1 L1682.5 796.6 L1687.3 808.7 L1692.1 811.1 L1700.6 762.9 L1705.4 770.2 L1711.4 755.3 L1717.4 746.1 L1723.4 743.7 L1728.2 737.7 L1735.5 747.3 L1742.7 747.3 L1748.7 758.1 L1754.7 775.0 L1759.5 782.2 L1765.6 784.6 L1770.4 808.7 L1774.0 788.2 L1778.8 806.3 L1783.6 807.5 L1790.8 801.5 L1799.3 791.8 L1802.9 802.7 L1807.7 782.2 L1814.9 779.8 L1820.9 769.0 L1825.7 789.4 L1830.5 764.2 L1835.4 777.4 L1843.8 782.2 L1849.8 791.8 L1854.6 793.0 L1861.8 826.7 L1866.7 817.1 L1871.5 825.5 L1876.3 802.7 L1881.1 806.3 L1885.9 799.8 L1890.7 791.8 L1894.3 753.3 L1900.4 755.7 L1906.4 743.7 L1913.6 719.6 L1918.4 698.0 L1923.2 696.8 L1931.7 659.4 L1937.7 652.2 L1946.1 628.1 L1950.9 604.1"/>
<path stroke="#7D4E4E" transform="translate(0 0.9)" d="M255.6 1245.5 L261.7 1168.5 L268.9 1079.4 L274.9 1115.5 L280.9 1048.1 L288.1 981.1 L296.6 930.5 L305.0 923.3 L312.2 889.6 L320.6 867.9 L329.1 860.7 L333.9 844.1 L338.7 827.0 L343.5 836.6 L347.9 818.4 L352.3 816.4 L356.8 802.9 L365.2 822.2 L372.4 776.5 L379.6 774.1 L385.6 790.9 L390.1 780.1 L394.5 766.5 L398.9 747.6 L403.7 756.2 L408.5 774.1 L416.9 770.5 L425.4 788.5 L433.8 786.1 L439.8 795.7 L444.6 810.5 L449.4 810.2 L457.9 793.3 L465.1 805.4 L470.5 811.8 L475.9 805.4 L481.9 786.1 L490.4 819.8 L495.2 819.9 L500.0 819.8 L504.8 829.4 L510.8 863.1 L514.4 884.8 L519.2 900.8 L524.1 913.7 L532.5 916.1 L540.9 904.1 L545.7 985.9 L552.9 932.9 L557.8 908.9 L563.8 929.4 L569.8 957.0 L574.6 889.6 L579.4 913.2 L584.2 913.7 L591.5 896.8 L598.7 894.4 L603.5 910.9 L608.3 937.8 L614.3 947.4 L619.1 976.3 L627.6 978.7 L634.8 1014.8 L637.2 1014.4 L642.0 1032.6 L646.8 1040.9 L654.0 1009.6 L658.9 1012.7 L663.7 1024.1 L668.5 1003.6 L673.3 995.2 L680.5 1028.9 L685.3 1028.6 L690.2 1014.4 L697.4 1062.6 L706.5 1088.9 L712.5 1074.4 L717.3 1132.2 L722.1 1221.3 L730.6 1182.8 L736.6 1385.0 L741.4 1416.3 L747.4 1228.5 L752.2 1144.3 L754.6 1202.0 L763.0 1060.0 L769.1 1120.2 L776.3 1156.3 L783.5 1088.9 L790.7 1079.3 L795.5 1176.9 L800.4 1221.3 L805.2 1129.8 L810.0 1123.6 L814.8 1117.8 L819.6 1180.4 L824.4 1329.6 L831.7 1283.9 L836.5 1257.4 L843.7 1392.2 L850.9 1276.6 L856.9 1197.2 L865.4 1247.8 L872.6 1180.4 L877.4 1209.2 L884.6 1252.6 L893.0 1139.4 L899.1 1190.0 L905.1 1166.8 L911.1 1170.7 L918.3 1291.1 L923.1 1240.5 L927.9 1214.1 L935.2 1156.3 L940.0 1303.1 L944.8 1264.6 L952.0 1317.6 L956.8 1439.1 L962.2 1455.4 L967.7 1439.1 L972.5 1300.7 L980.9 1288.7 L988.1 1113.0 L992.9 1156.3 L997.8 1130.0 L1002.6 1105.7 L1008.6 1085.1 L1014.6 1052.8 L1021.8 1084.1 L1026.6 1100.1 L1031.5 1064.8 L1038.7 1045.6 L1040.4 920.4 L1042.3 1048.0 L1047.1 1117.8 L1053.1 1197.2 L1057.9 1093.7 L1064.0 1104.3 L1070.0 1069.6 L1074.8 1122.6 L1082.0 1069.6 L1089.2 1098.5 L1094.0 1151.5 L1100.1 1088.9 L1106.1 1156.3 L1113.3 1117.8 L1119.3 1035.9 L1124.6 1018.7 L1129.9 1036.6 L1135.2 1000.7 L1140.5 988.9 L1146.5 1032.2 L1151.3 1035.7 L1156.1 1022.6 L1160.9 1003.7 L1165.7 998.5 L1169.3 1025.0 L1177.8 945.5 L1182.6 952.3 L1187.4 960.0 L1192.2 938.3 L1197.0 921.6 L1201.8 933.5 L1206.7 982.9 L1211.5 996.1 L1218.7 969.6 L1225.9 981.6 L1230.7 1008.1 L1236.8 1011.4 L1242.8 993.7 L1250.0 1046.6 L1256.0 1044.5 L1262.0 1061.1 L1266.8 1003.3 L1271.7 984.1 L1278.9 993.7 L1286.1 964.8 L1289.7 947.9 L1295.7 952.8 L1302.9 899.8 L1310.2 907.0 L1317.4 873.3 L1325.8 867.3 L1333.0 873.3 L1338.5 855.5 L1343.9 860.1 L1349.3 857.1 L1354.7 872.1 L1363.1 846.8 L1367.9 863.7 L1372.8 827.6 L1381.2 830.0 L1387.2 805.9 L1393.2 811.6 L1399.2 805.9 L1404.1 804.6 L1408.9 807.4 L1413.7 807.1 L1418.5 809.5 L1423.3 804.7 L1428.1 801.1 L1432.9 801.0 L1437.8 807.1 L1443.8 818.0 L1451.0 832.4 L1455.8 820.4 L1464.2 819.2 L1469.0 806.6 L1473.9 793.9 L1478.7 792.7 L1483.5 781.7 L1488.3 777.0 L1493.1 770.8 L1497.9 765.0 L1502.7 767.4 L1511.2 760.2 L1517.2 767.4 L1522.8 772.6 L1528.4 777.4 L1534.0 780.6 L1540.1 796.3 L1548.5 803.5 L1553.3 785.5 L1560.5 791.5 L1566.5 799.9 L1572.6 796.3 L1577.4 778.2 L1585.8 769.8 L1591.8 777.0 L1598.3 777.4 L1604.3 760.5 L1609.1 767.8 L1613.9 746.1 L1617.5 746.1 L1623.5 756.9 L1629.5 747.7 L1635.6 740.1 L1641.6 756.9 L1646.4 760.5 L1651.2 777.4 L1656.0 779.8 L1660.8 791.8 L1665.7 795.4 L1669.3 817.1 L1677.7 817.1 L1682.5 796.6 L1687.3 808.7 L1692.1 811.1 L1700.6 762.9 L1705.4 770.2 L1711.4 755.3 L1717.4 746.1 L1723.4 743.7 L1728.2 737.7 L1735.5 747.3 L1742.7 747.3 L1748.7 758.1 L1754.7 775.0 L1759.5 782.2 L1765.6 784.6 L1770.4 808.7 L1774.0 788.2 L1778.8 806.3 L1783.6 807.5 L1790.8 801.5 L1799.3 791.8 L1802.9 802.7 L1807.7 782.2 L1814.9 779.8 L1820.9 769.0 L1825.7 789.4 L1830.5 764.2 L1835.4 777.4 L1843.8 782.2 L1849.8 791.8 L1854.6 793.0 L1861.8 826.7 L1866.7 817.1 L1871.5 825.5 L1876.3 802.7 L1881.1 806.3 L1885.9 799.8 L1890.7 791.8 L1894.3 753.3 L1900.4 755.7 L1906.4 743.7 L1913.6 719.6 L1918.4 698.0 L1923.2 696.8 L1931.7 659.4 L1937.7 652.2 L1946.1 628.1 L1950.9 604.1"/>
</g>
<g stroke="#808080" stroke-width="5.4" fill="none">
<line x1="510.9" y1="497.6" x2="510.9" y2="698.7"/>
<line x1="1890.8" y1="506.3" x2="1890.8" y2="706.8"/>
<line x1="558" y1="545.7" x2="1846" y2="545.7" stroke-width="5"/>
</g>
<polygon points="541.4,545.7 561,536.2 561,555.2" fill="#808080"/>
<polygon points="1863.4,545.7 1843.6,536.2 1843.6,555.2" fill="#808080"/>
<text transform="translate(1235.1 520.7) scale(1 1.055)" font-size="59.3" text-anchor="middle" fill="#808080" stroke="#fff" stroke-width="0.7">302 MHz (0.405 to 0.707 GHz)</text>
<g stroke-width="5.9" stroke-linecap="butt" fill="none">
<line x1="593.3" y1="166.0" x2="760.1" y2="166.0" stroke="#515151"/>
<line x1="918.3" y1="166.0" x2="1085.1" y2="166.0" stroke="#F14040"/>
<line x1="1244.6" y1="166.0" x2="1411.4" y2="166.0" stroke="#1A6FDF"/>
<line x1="1570.0" y1="166.0" x2="1736.8" y2="166.0" stroke="#37AD6B"/>
<line x1="593.3" y1="254.5" x2="760.1" y2="254.5" stroke="#B177DE"/>
<line x1="918.3" y1="254.5" x2="1085.1" y2="254.5" stroke="#CC9900"/>
<line x1="1244.6" y1="254.5" x2="1411.4" y2="254.5" stroke="#00CBCC"/>
<line x1="1570.0" y1="254.5" x2="1736.8" y2="254.5" stroke="#7D4E4E"/>
</g>
<text transform="translate(773.3 190.6) scale(1 1.045)" font-size="74.1" text-anchor="start" fill="#000" stroke="#fff" stroke-width="0.7">S1Y</text>
<text transform="translate(1098.3 190.6) scale(1 1.045)" font-size="74.1" text-anchor="start" fill="#000" stroke="#fff" stroke-width="0.7">S2Y</text>
<text transform="translate(1424.6 190.6) scale(1 1.045)" font-size="74.1" text-anchor="start" fill="#000" stroke="#fff" stroke-width="0.7">S3Y</text>
<text transform="translate(1750.0 190.6) scale(1 1.045)" font-size="74.1" text-anchor="start" fill="#000" stroke="#fff" stroke-width="0.7">S4Y</text>
<text transform="translate(773.3 279.1) scale(1 1.045)" font-size="74.1" text-anchor="start" fill="#000" stroke="#fff" stroke-width="0.7">S5X</text>
<text transform="translate(1098.3 279.1) scale(1 1.045)" font-size="74.1" text-anchor="start" fill="#000" stroke="#fff" stroke-width="0.7">S6X</text>
<text transform="translate(1424.6 279.1) scale(1 1.045)" font-size="74.1" text-anchor="start" fill="#000" stroke="#fff" stroke-width="0.7">S7X</text>
<text transform="translate(1750.0 279.1) scale(1 1.045)" font-size="74.1" text-anchor="start" fill="#000" stroke="#fff" stroke-width="0.7">S8X</text>
<g font-size="60.0" fill="#000" stroke="#fff" stroke-width="0.7">
<text transform="translate(213.7 67.8) scale(1 1.060)" text-anchor="end">0</text>
<text transform="translate(213.7 206.7) scale(1 1.060)" text-anchor="end">−5</text>
<text transform="translate(213.7 345.7) scale(1 1.060)" text-anchor="end">−10</text>
<text transform="translate(213.7 484.6) scale(1 1.060)" text-anchor="end">−15</text>
<text transform="translate(213.7 623.5) scale(1 1.060)" text-anchor="end">−20</text>
<text transform="translate(213.7 762.5) scale(1 1.060)" text-anchor="end">−25</text>
<text transform="translate(213.7 901.4) scale(1 1.060)" text-anchor="end">−30</text>
<text transform="translate(213.7 1040.3) scale(1 1.060)" text-anchor="end">−35</text>
<text transform="translate(213.7 1179.2) scale(1 1.060)" text-anchor="end">−40</text>
<text transform="translate(213.7 1318.2) scale(1 1.060)" text-anchor="end">−45</text>
<text transform="translate(213.7 1457.1) scale(1 1.060)" text-anchor="end">−50</text>
<text transform="translate(256.0 1514.5) scale(1 1.060)" text-anchor="middle">0.35</text>
<text transform="translate(487.0 1514.5) scale(1 1.060)" text-anchor="middle">0.40</text>
<text transform="translate(718.0 1514.5) scale(1 1.060)" text-anchor="middle">0.45</text>
<text transform="translate(949.0 1514.5) scale(1 1.060)" text-anchor="middle">0.50</text>
<text transform="translate(1180.0 1514.5) scale(1 1.060)" text-anchor="middle">0.55</text>
<text transform="translate(1411.0 1514.5) scale(1 1.060)" text-anchor="middle">0.60</text>
<text transform="translate(1642.0 1514.5) scale(1 1.060)" text-anchor="middle">0.65</text>
<text transform="translate(1873.0 1514.5) scale(1 1.060)" text-anchor="middle">0.70</text>
</g>
<text transform="translate(1103.0 1627.8) scale(1 1.040)" font-size="73.2" text-anchor="middle" fill="#000" stroke="#fff" stroke-width="0.7">Frequency (GHz)</text>
<text transform="translate(90.8 743.6) rotate(-90) scale(1 1.012)" font-size="73.3" text-anchor="middle" fill="#000" stroke="#fff" stroke-width="0.7">Isolation (dB)</text>
</g>
</svg></body></html>
